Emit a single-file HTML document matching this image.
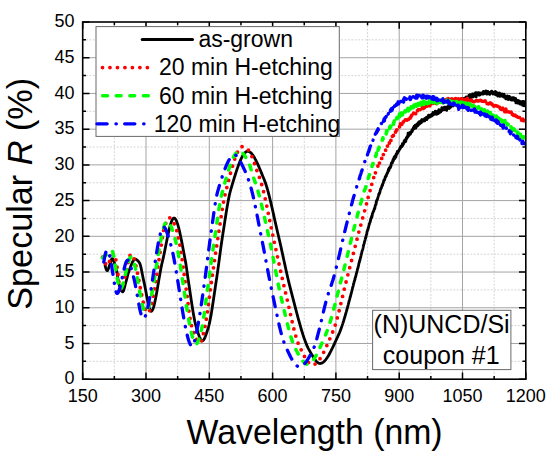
<!DOCTYPE html>
<html><head><meta charset="utf-8"><style>
html,body{margin:0;padding:0;background:#fff;width:552px;height:462px;overflow:hidden}
svg{display:block}
text{font-family:"Liberation Sans",sans-serif;fill:#000}
</style></head><body>
<svg width="552" height="462" viewBox="0 0 552 462">
<rect width="552" height="462" fill="#fff"/>
<path d="M114.35 22.00 V379.20 M177.65 22.00 V379.20 M240.95 22.00 V379.20 M304.25 22.00 V379.20 M367.55 22.00 V379.20 M430.85 22.00 V379.20 M494.15 22.00 V379.20 M82.70 361.34 H525.80 M82.70 325.62 H525.80 M82.70 289.90 H525.80 M82.70 254.18 H525.80 M82.70 218.46 H525.80 M82.70 182.74 H525.80 M82.70 147.02 H525.80 M82.70 111.30 H525.80 M82.70 75.58 H525.80 M82.70 39.86 H525.80" stroke="#d4d4d4" stroke-width="1" stroke-dasharray="1.9 1.5" fill="none"/>
<path d="M146.00 22.00 V379.20 M209.30 22.00 V379.20 M272.60 22.00 V379.20 M335.90 22.00 V379.20 M399.20 22.00 V379.20 M462.50 22.00 V379.20 M82.70 343.48 H525.80 M82.70 307.76 H525.80 M82.70 272.04 H525.80 M82.70 236.32 H525.80 M82.70 200.60 H525.80 M82.70 164.88 H525.80 M82.70 129.16 H525.80 M82.70 93.44 H525.80 M82.70 57.72 H525.80" stroke="#a4a4a4" stroke-width="1" fill="none"/>
<defs><clipPath id="pc"><rect x="82.7" y="22.0" width="443.09999999999997" height="357.2"/></clipPath></defs>
<g clip-path="url(#pc)" fill="none" stroke-linejoin="round">
<path d="M104.86 264.18 L105.28 266.20 L105.70 267.88 L106.12 269.19 L106.54 270.09 L106.97 270.55 L107.39 270.54 L107.81 270.00 L108.23 269.07 L108.65 267.90 L109.08 266.64 L109.50 265.43 L109.92 264.35 L110.34 263.04 L110.76 261.62 L111.19 260.27 L111.61 259.19 L112.03 258.55 L112.45 258.56 L112.87 259.20 L113.30 260.14 L113.72 261.08 L114.14 262.13 L114.56 263.32 L114.98 264.63 L115.41 266.08 L115.83 267.64 L116.25 269.32 L116.67 271.11 L117.09 273.12 L117.52 275.86 L117.94 278.87 L118.36 281.57 L118.78 283.40 L119.20 284.81 L119.62 286.17 L120.05 287.44 L120.47 288.60 L120.89 289.62 L121.31 290.48 L121.73 291.15 L122.16 291.60 L122.58 291.82 L123.00 291.67 L123.42 290.94 L123.84 289.75 L124.27 288.26 L124.69 286.61 L125.11 284.94 L125.53 283.39 L125.95 281.96 L126.38 280.40 L126.80 278.76 L127.22 277.09 L127.64 275.44 L128.06 273.88 L128.49 272.44 L128.91 271.19 L129.33 270.09 L129.75 268.96 L130.18 267.83 L130.60 266.71 L131.02 265.61 L131.44 264.54 L131.86 263.53 L132.28 262.59 L132.71 261.73 L133.13 260.97 L133.55 260.32 L133.97 259.81 L134.40 259.44 L134.82 259.23 L135.24 259.18 L135.66 259.26 L136.08 259.41 L136.50 259.64 L136.93 259.94 L137.35 260.30 L137.77 260.72 L138.19 261.18 L138.62 261.69 L139.04 262.24 L139.46 262.81 L139.88 263.66 L140.30 264.91 L140.72 266.48 L141.15 268.30 L141.57 270.31 L141.99 272.44 L142.41 274.63 L142.84 276.79 L143.26 278.87 L143.68 280.79 L144.10 282.60 L144.52 284.55 L144.94 286.63 L145.37 288.82 L145.79 291.06 L146.21 293.35 L146.63 295.63 L147.06 297.87 L147.48 300.06 L147.90 302.14 L148.32 304.09 L148.74 305.88 L149.17 307.47 L149.59 308.83 L150.01 309.93 L150.43 310.74 L150.85 311.21 L151.28 311.33 L151.70 311.12 L152.12 310.64 L152.54 309.91 L152.96 308.93 L153.38 307.73 L153.81 306.32 L154.23 304.73 L154.65 302.97 L155.07 301.05 L155.50 299.00 L155.92 296.83 L156.34 294.56 L156.76 292.21 L157.18 289.80 L157.61 287.34 L158.03 284.85 L158.45 282.34 L158.87 279.85 L159.29 277.38 L159.72 274.94 L160.14 272.57 L160.56 270.28 L160.98 268.08 L161.40 265.99 L161.82 264.02 L162.25 262.21 L162.67 260.46 L163.09 258.62 L163.51 256.71 L163.94 254.73 L164.36 252.71 L164.78 250.64 L165.20 248.55 L165.62 246.44 L166.05 244.33 L166.47 242.22 L166.89 240.13 L167.31 238.06 L167.73 236.04 L168.16 234.07 L168.58 232.15 L169.00 230.31 L169.42 228.56 L169.84 226.90 L170.26 225.35 L170.69 223.91 L171.11 222.61 L171.53 221.44 L171.95 220.43 L172.38 219.58 L172.80 218.90 L173.22 218.41 L173.64 218.12 L174.06 218.03 L174.49 218.15 L174.91 218.44 L175.33 218.91 L175.75 219.55 L176.17 220.34 L176.59 221.29 L177.02 222.37 L177.44 223.60 L177.86 224.94 L178.28 226.41 L178.70 227.98 L179.13 229.65 L179.55 231.42 L179.97 233.27 L180.39 235.20 L180.81 237.20 L181.24 239.26 L181.66 241.37 L182.08 243.52 L182.50 245.72 L182.93 247.93 L183.35 250.17 L183.77 252.42 L184.19 254.68 L184.61 256.93 L185.03 259.16 L185.46 261.38 L185.88 263.69 L186.30 266.38 L186.72 269.35 L187.14 272.45 L187.57 275.55 L187.99 278.51 L188.41 281.25 L188.83 284.00 L189.25 286.80 L189.68 289.63 L190.10 292.48 L190.52 295.34 L190.94 298.18 L191.37 301.00 L191.79 303.78 L192.21 306.51 L192.63 309.18 L193.05 311.76 L193.47 314.24 L193.90 316.62 L194.32 318.87 L194.74 320.98 L195.16 322.94 L195.58 324.73 L196.01 326.34 L196.43 327.75 L196.85 329.10 L197.27 330.44 L197.69 331.78 L198.12 333.09 L198.54 334.35 L198.96 335.55 L199.38 336.67 L199.81 337.69 L200.23 338.60 L200.65 339.38 L201.07 340.01 L201.49 340.47 L201.91 340.75 L202.34 340.84 L202.76 340.72 L203.18 340.41 L203.60 339.92 L204.03 339.28 L204.45 338.50 L204.87 337.59 L205.29 336.58 L205.71 335.47 L206.13 334.28 L206.56 333.04 L206.98 331.74 L207.40 330.42 L207.82 329.09 L208.25 327.75 L208.67 326.34 L209.09 324.73 L209.51 322.93 L209.93 320.96 L210.36 318.83 L210.78 316.55 L211.20 314.15 L211.62 311.64 L212.04 309.02 L212.46 306.32 L212.89 303.56 L213.31 300.73 L213.73 297.87 L214.15 294.99 L214.57 292.09 L215.00 289.21 L215.42 286.34 L215.84 283.50 L216.26 280.72 L216.69 277.96 L217.11 275.09 L217.53 272.14 L217.95 269.11 L218.37 266.02 L218.80 262.90 L219.22 259.75 L219.64 256.59 L220.06 253.45 L220.48 250.34 L220.90 247.27 L221.33 244.26 L221.75 241.33 L222.17 238.50 L222.59 235.78 L223.01 233.08 L223.44 230.35 L223.86 227.60 L224.28 224.85 L224.70 222.10 L225.12 219.37 L225.55 216.67 L225.97 214.00 L226.39 211.38 L226.81 208.82 L227.24 206.33 L227.66 203.92 L228.08 201.60 L228.50 199.38 L228.92 197.27 L229.34 195.29 L229.77 193.44 L230.19 191.73 L230.61 190.18 L231.03 188.73 L231.45 187.30 L231.88 185.86 L232.30 184.43 L232.72 183.01 L233.14 181.60 L233.56 180.20 L233.99 178.81 L234.41 177.43 L234.83 176.07 L235.25 174.73 L235.68 173.40 L236.10 172.10 L236.52 170.82 L236.94 169.57 L237.36 168.34 L237.79 167.14 L238.21 165.97 L238.63 164.83 L239.05 163.72 L239.47 162.65 L239.89 161.62 L240.32 160.62 L240.74 159.67 L241.16 158.76 L241.58 157.89 L242.00 157.06 L242.43 156.29 L242.85 155.56 L243.27 154.89 L243.69 154.26 L244.12 153.69 L244.54 153.18 L244.96 152.73 L245.38 152.33 L245.80 152.00 L246.23 151.73 L246.65 151.52 L247.07 151.39 L247.49 151.32 L247.91 151.31 L248.33 151.37 L248.76 151.49 L249.18 151.66 L249.60 151.88 L250.02 152.15 L250.44 152.47 L250.87 152.85 L251.29 153.26 L251.71 153.72 L252.13 154.23 L252.56 154.78 L252.98 155.36 L253.40 155.99 L253.82 156.65 L254.24 157.34 L254.67 158.07 L255.09 158.83 L255.51 159.62 L255.93 160.44 L256.35 161.28 L256.77 162.15 L257.20 163.04 L257.62 163.95 L258.04 164.89 L258.46 165.84 L258.88 166.80 L259.31 167.78 L259.73 168.78 L260.15 169.78 L260.57 170.80 L261.00 171.82 L261.42 172.85 L261.84 173.88 L262.26 174.92 L262.68 175.96 L263.11 176.99 L263.53 178.03 L263.95 179.06 L264.37 180.09 L264.79 181.16 L265.21 182.31 L265.64 183.51 L266.06 184.79 L266.48 186.12 L266.90 187.50 L267.32 188.95 L267.75 190.44 L268.17 191.98 L268.59 193.56 L269.01 195.19 L269.44 196.85 L269.86 198.55 L270.28 200.28 L270.70 202.04 L271.12 203.83 L271.55 205.64 L271.97 207.47 L272.39 209.31 L272.81 211.17 L273.23 213.04 L273.65 214.92 L274.08 216.81 L274.50 218.69 L274.92 220.58 L275.34 222.46 L275.76 224.33 L276.19 226.19 L276.61 228.04 L277.03 229.87 L277.45 231.69 L277.88 233.48 L278.30 235.24 L278.72 237.02 L279.14 238.82 L279.56 240.65 L279.99 242.50 L280.41 244.38 L280.83 246.26 L281.25 248.17 L281.67 250.09 L282.09 252.01 L282.52 253.95 L282.94 255.89 L283.36 257.84 L283.78 259.78 L284.20 261.73 L284.63 263.67 L285.05 265.60 L285.47 267.53 L285.89 269.44 L286.31 271.34 L286.74 273.23 L287.16 275.10 L287.58 276.94 L288.00 278.77 L288.43 280.57 L288.85 282.34 L289.27 284.08 L289.69 285.79 L290.11 287.46 L290.53 289.10 L290.96 290.70 L291.38 292.31 L291.80 293.92 L292.22 295.54 L292.64 297.16 L293.07 298.79 L293.49 300.42 L293.91 302.05 L294.33 303.69 L294.75 305.32 L295.18 306.94 L295.60 308.56 L296.02 310.18 L296.44 311.79 L296.87 313.39 L297.29 314.98 L297.71 316.56 L298.13 318.12 L298.55 319.67 L298.98 321.21 L299.40 322.73 L299.82 324.23 L300.24 325.71 L300.66 327.17 L301.08 328.61 L301.51 330.02 L301.93 331.41 L302.35 332.77 L302.77 334.10 L303.19 335.41 L303.62 336.68 L304.04 337.93 L304.46 339.14 L304.88 340.31 L305.31 341.45 L305.73 342.55 L306.15 343.61 L306.57 344.63 L306.99 345.61 L307.42 346.55 L307.84 347.44 L308.26 348.29 L308.68 349.09 L309.10 349.84 L309.52 350.58 L309.95 351.33 L310.37 352.08 L310.79 352.83 L311.21 353.58 L311.63 354.32 L312.06 355.05 L312.48 355.77 L312.90 356.47 L313.32 357.16 L313.75 357.82 L314.17 358.47 L314.59 359.08 L315.01 359.67 L315.43 360.23 L315.86 360.75 L316.28 361.24 L316.70 361.69 L317.12 362.09 L317.54 362.45 L317.96 362.76 L318.39 363.02 L318.81 363.22 L319.23 363.37 L319.65 363.46 L320.07 363.48 L320.50 363.45 L320.92 363.38 L321.34 363.26 L321.76 363.09 L322.19 362.89 L322.61 362.64 L323.03 362.35 L323.45 362.02 L323.87 361.65 L324.30 361.25 L324.72 360.81 L325.14 360.33 L325.56 359.83 L325.98 359.29 L326.40 358.72 L326.83 358.12 L327.25 357.50 L327.67 356.84 L328.09 356.17 L328.51 355.46 L328.94 354.74 L329.36 353.99 L329.78 353.22 L330.20 352.44 L330.62 351.63 L331.05 350.81 L331.47 349.98 L331.89 349.13 L332.31 348.26 L332.74 347.39 L333.16 346.50 L333.58 345.61 L334.00 344.70 L334.42 343.79 L334.84 342.88 L335.27 341.96 L335.69 341.04 L336.11 340.11 L336.53 339.19 L336.95 338.26 L337.38 337.34 L337.80 336.42 L338.22 335.51 L338.64 334.60 L339.06 333.67 L339.49 332.69 L339.91 331.66 L340.33 330.59 L340.75 329.47 L341.17 328.33 L341.60 327.11 L342.02 325.87 L342.44 324.60 L342.86 323.35 L343.28 321.99 L343.71 320.64 L344.13 319.15 L344.55 317.81 L344.97 316.50 L345.39 314.88 L345.82 313.28 L346.24 311.86 L346.66 310.31 L347.08 308.84 L347.50 307.48 L347.93 305.90 L348.35 304.26 L348.56 303.34 L348.77 302.49 L348.98 301.64 L349.19 300.96 L349.40 300.00 L349.61 299.35 L349.83 298.59 L350.04 297.58 L350.25 297.01 L350.46 296.46 L350.67 295.41 L350.88 294.44 L351.09 294.10 L351.30 292.89 L351.51 292.07 L351.72 291.44 L351.94 290.64 L352.15 289.67 L352.36 288.88 L352.57 287.77 L352.78 287.12 L352.99 286.66 L353.20 285.73 L353.41 284.66 L353.62 283.65 L353.83 283.13 L354.05 282.36 L354.26 281.27 L354.47 280.85 L354.68 280.13 L354.89 279.57 L355.10 278.62 L355.31 277.30 L355.52 277.27 L355.73 276.19 L355.94 275.71 L356.16 274.60 L356.37 273.64 L356.58 273.09 L356.79 272.07 L357.00 271.26 L357.21 270.51 L357.42 269.40 L357.63 268.80 L357.84 268.24 L358.06 267.51 L358.27 266.72 L358.48 265.57 L358.69 264.94 L358.90 263.33 L359.11 262.71 L359.32 262.41 L359.53 261.60 L359.74 260.22 L359.95 260.34 L360.16 259.11 L360.38 257.89 L360.59 257.56 L360.80 256.60 L361.01 255.72 L361.22 254.59 L361.43 253.90 L361.64 252.98 L361.85 252.08 L362.06 251.40 L362.27 250.24 L362.49 249.95 L362.70 249.34 L362.91 248.61 L363.12 247.73 L363.33 246.57 L363.54 245.24 L363.75 244.69 L363.96 244.11 L364.17 243.45 L364.38 242.45 L364.60 241.60 L364.81 240.84 L365.02 240.33 L365.23 239.20 L365.44 237.89 L365.65 238.19 L365.86 236.73 L366.07 236.60 L366.28 235.01 L366.50 234.56 L366.71 234.27 L366.92 232.71 L367.13 231.32 L367.34 231.18 L367.55 230.03 L367.76 229.74 L367.97 229.78 L368.18 228.04 L368.39 227.65 L368.60 227.32 L368.82 225.73 L369.03 225.20 L369.24 224.81 L369.45 223.55 L369.66 223.54 L369.87 222.23 L370.08 222.17 L370.29 220.88 L370.50 220.87 L370.71 219.11 L370.93 218.94 L371.14 217.77 L371.35 218.05 L371.56 217.23 L371.77 216.00 L371.98 216.88 L372.19 215.50 L372.40 213.92 L372.61 213.51 L372.82 212.63 L373.04 212.55 L373.25 211.51 L373.46 211.44 L373.67 211.09 L373.88 210.59 L374.09 209.43 L374.30 208.78 L374.51 208.18 L374.72 208.90 L374.94 207.54 L375.15 206.21 L375.36 205.18 L375.57 204.95 L375.78 204.46 L375.99 204.52 L376.20 201.77 L376.41 202.66 L376.62 200.65 L376.83 200.07 L377.04 200.07 L377.26 199.86 L377.47 198.86 L377.68 198.88 L377.89 197.53 L378.10 197.03 L378.31 196.13 L378.52 195.28 L378.73 194.24 L378.94 194.72 L379.15 193.34 L379.37 193.69 L379.58 193.13 L379.79 192.37 L380.00 191.96 L380.21 190.28 L380.42 189.70 L380.63 188.91 L380.84 189.02 L381.05 188.26 L381.26 188.14 L381.48 187.87 L381.69 186.39 L381.90 185.91 L382.11 186.12 L382.32 184.59 L382.53 185.36 L382.74 183.90 L382.95 183.61 L383.16 183.00 L383.38 182.79 L383.59 181.05 L383.80 180.75 L384.01 179.85 L384.22 179.95 L384.43 180.29 L384.64 179.23 L384.85 179.22 L385.06 177.72 L385.27 176.76 L385.48 176.80 L385.70 176.89 L385.91 176.26 L386.12 175.42 L386.33 175.97 L386.54 174.50 L386.75 173.99 L386.96 173.99 L387.17 173.44 L387.38 172.60 L387.59 172.78 L387.81 172.32 L388.02 170.82 L388.23 170.72 L388.44 169.31 L388.65 170.60 L388.86 170.66 L389.07 168.41 L389.28 167.94 L389.49 168.62 L389.70 168.66 L389.92 167.25 L390.13 167.95 L390.34 166.55 L390.55 167.35 L390.76 165.58 L390.97 166.43 L391.18 164.68 L391.39 163.02 L391.60 163.82 L391.81 162.65 L392.03 163.20 L392.24 162.94 L392.45 162.94 L392.66 160.70 L392.87 161.06 L393.08 159.42 L393.29 161.01 L393.50 159.90 L393.71 159.27 L393.92 157.88 L394.14 157.17 L394.35 158.57 L394.56 158.53 L394.77 158.58 L394.98 155.91 L395.19 156.57 L395.40 156.60 L395.61 155.77 L395.82 157.29 L396.03 156.29 L396.25 153.90 L396.46 153.94 L396.67 153.76 L396.88 154.28 L397.09 152.70 L397.30 151.42 L397.51 153.39 L397.72 152.08 L397.93 152.08 L398.14 151.12 L398.36 151.05 L398.57 150.83 L398.78 151.08 L398.99 150.06 L399.20 150.20 L399.41 149.50 L399.62 149.10 L399.83 148.19 L400.04 148.87 L400.25 148.33 L400.47 146.87 L400.68 147.60 L400.89 147.31 L401.10 146.06 L401.31 146.23 L401.52 146.06 L401.73 145.63 L401.94 146.53 L402.15 144.79 L402.36 143.74 L402.58 144.05 L402.79 145.54 L403.00 143.66 L403.21 144.36 L403.42 143.47 L403.63 142.85 L403.84 143.66 L404.05 141.18 L404.26 142.07 L404.47 141.02 L404.69 140.84 L404.90 139.92 L405.11 139.74 L405.32 141.71 L405.53 140.10 L405.74 141.65 L405.95 139.90 L406.16 138.59 L406.37 138.11 L406.58 137.48 L406.80 138.60 L407.01 137.69 L407.22 137.57 L407.43 136.26 L407.64 135.68 L407.85 137.04 L408.06 133.18 L408.27 136.12 L408.48 136.13 L408.69 135.00 L408.91 134.56 L409.12 134.43 L409.33 135.16 L409.54 133.03 L409.75 133.95 L409.96 132.38 L410.17 132.20 L410.38 134.19 L410.59 133.64 L410.80 133.36 L411.02 132.00 L411.23 131.87 L411.44 131.40 L411.65 132.04 L411.86 130.69 L412.07 129.57 L412.28 131.63 L412.49 130.38 L412.70 129.72 L412.91 129.77 L413.13 129.56 L413.34 127.60 L413.55 127.75 L413.76 127.86 L413.97 128.99 L414.18 126.16 L414.39 127.52 L414.60 128.07 L414.81 127.62 L415.02 127.51 L415.24 125.04 L415.45 126.44 L415.66 126.34 L415.87 128.01 L416.08 125.31 L416.29 126.63 L416.50 126.48 L416.71 124.78 L416.92 125.84 L417.13 124.18 L417.35 123.73 L417.56 126.03 L417.77 124.43 L417.98 125.47 L418.19 123.99 L418.40 122.97 L418.61 124.75 L418.82 121.86 L419.03 123.50 L419.25 124.08 L419.46 123.01 L419.67 122.06 L419.88 123.75 L420.09 122.41 L420.30 123.44 L420.51 121.07 L420.72 121.82 L420.93 122.16 L421.14 120.76 L421.35 122.60 L421.57 121.69 L421.78 119.62 L421.99 121.17 L422.20 119.75 L422.41 120.61 L422.62 121.23 L422.83 120.70 L423.04 120.28 L423.25 120.56 L423.46 120.77 L423.68 120.60 L423.89 121.06 L424.10 119.56 L424.31 119.18 L424.52 118.73 L424.73 120.79 L424.94 118.41 L425.15 118.98 L425.36 120.05 L425.57 118.61 L425.79 117.86 L426.00 117.97 L426.21 117.67 L426.42 117.34 L426.63 117.25 L426.84 117.92 L427.05 119.54 L427.26 118.27 L427.47 117.18 L427.69 117.76 L427.90 116.64 L428.11 116.41 L428.32 116.92 L428.53 115.22 L428.74 117.54 L428.95 115.78 L429.16 116.86 L429.37 116.99 L429.58 115.69 L429.79 116.60 L430.01 115.21 L430.22 116.82 L430.43 115.67 L430.64 116.30 L430.85 115.66 L431.06 115.65 L431.27 116.18 L431.48 114.53 L431.69 116.04 L431.90 115.69 L432.12 113.97 L432.33 113.78 L432.54 113.92 L432.75 114.09 L432.96 112.31 L433.17 115.19 L433.38 114.67 L433.59 114.77 L433.80 113.03 L434.01 113.44 L434.23 112.63 L434.44 112.63 L434.65 113.55 L434.86 113.95 L435.07 113.98 L435.28 111.13 L435.49 112.08 L435.70 112.30 L435.91 112.99 L436.12 112.76 L436.34 112.78 L436.55 112.65 L436.76 114.33 L436.97 112.21 L437.18 112.38 L437.39 111.70 L437.60 111.67 L437.81 111.01 L438.02 111.65 L438.23 110.85 L438.45 113.63 L438.66 112.28 L438.87 109.75 L439.08 112.18 L439.29 111.27 L439.50 110.32 L439.71 111.59 L439.92 110.11 L440.13 111.86 L440.34 112.18 L440.56 111.58 L440.77 111.76 L440.98 110.26 L441.19 110.42 L441.40 109.78 L441.61 110.85 L441.82 107.69 L442.03 109.86 L442.24 109.72 L442.45 109.20 L442.67 109.71 L442.88 109.95 L443.09 109.24 L443.30 108.44 L443.51 108.56 L443.72 108.24 L443.93 109.44 L444.14 109.53 L444.35 107.06 L444.56 108.89 L444.78 108.19 L444.99 107.87 L445.20 107.20 L445.41 109.49 L445.62 108.65 L445.83 108.53 L446.04 108.32 L446.25 110.05 L446.46 107.97 L446.67 110.28 L446.89 107.46 L447.10 107.16 L447.31 107.02 L447.52 108.48 L447.73 106.53 L447.94 108.00 L448.15 108.22 L448.36 107.92 L448.57 107.72 L448.78 106.75 L449.00 106.10 L449.21 108.51 L449.42 107.08 L449.63 105.75 L449.84 106.25 L450.05 105.89 L450.26 107.51 L450.47 105.31 L450.68 107.37 L450.89 105.76 L451.11 104.66 L451.32 104.11 L451.53 105.18 L451.74 104.76 L451.95 105.93 L452.16 105.72 L452.37 104.19 L452.58 105.09 L452.79 105.09 L453.00 106.08 L453.22 104.63 L453.43 104.10 L453.64 105.22 L453.85 104.86 L454.06 102.96 L454.27 104.04 L454.48 104.33 L454.69 104.94 L454.90 104.38 L455.11 103.95 L455.33 102.44 L455.54 104.02 L455.75 101.85 L455.96 104.06 L456.17 103.45 L456.38 102.31 L456.59 103.12 L456.80 103.51 L457.01 102.79 L457.22 102.17 L457.44 103.91 L457.65 102.54 L457.86 102.30 L458.07 102.44 L458.28 101.34 L458.49 102.35 L458.70 102.06 L458.91 101.60 L459.12 100.89 L459.33 101.59 L459.55 99.99 L459.76 101.96 L459.97 99.96 L460.18 101.69 L460.39 100.99 L460.60 100.42 L460.81 98.87 L461.02 99.75 L461.23 100.76 L461.44 99.19 L461.66 100.38 L461.87 100.77 L462.08 99.61 L462.29 99.81 L462.50 98.97 L462.71 100.16 L462.92 99.26 L463.13 98.94 L463.34 99.15 L463.55 99.31 L463.77 99.78 L463.98 98.31 L464.19 98.87 L464.40 98.47 L464.61 99.10 L464.82 98.70 L465.03 99.50 L465.24 98.45 L465.45 97.77 L465.66 98.25 L465.88 97.51 L466.09 97.88 L466.30 96.89 L466.51 98.13 L466.72 99.29 L466.93 97.42 L467.14 97.85 L467.35 98.45 L467.56 96.97 L467.77 97.22 L467.99 96.98 L468.20 97.56 L468.41 97.02 L468.62 96.89 L468.83 95.50 L469.04 97.53 L469.25 96.87 L469.46 96.47 L469.67 98.18 L469.88 97.99 L470.10 94.68 L470.31 97.97 L470.52 95.89 L470.73 97.03 L470.94 96.88 L471.15 97.85 L471.36 96.85 L471.57 95.33 L471.78 97.11 L471.99 95.34 L472.21 95.51 L472.42 93.97 L472.63 96.04 L472.84 94.48 L473.05 94.73 L473.26 95.67 L473.47 96.78 L473.68 93.99 L473.89 96.39 L474.10 95.56 L474.32 94.33 L474.53 94.06 L474.74 95.68 L474.95 94.92 L475.16 95.05 L475.37 93.76 L475.58 92.56 L475.79 96.22 L476.00 93.81 L476.21 96.98 L476.43 94.46 L476.64 95.37 L476.85 92.66 L477.06 94.17 L477.27 94.89 L477.48 94.63 L477.69 94.64 L477.90 93.94 L478.11 94.18 L478.32 93.44 L478.54 92.63 L478.75 93.30 L478.96 94.91 L479.17 95.20 L479.38 94.41 L479.59 92.82 L479.80 93.96 L480.01 94.21 L480.22 93.47 L480.44 94.77 L480.65 94.49 L480.86 93.04 L481.07 93.70 L481.28 93.79 L481.49 93.09 L481.70 93.83 L481.91 93.88 L482.12 93.66 L482.33 92.72 L482.54 93.15 L482.76 94.20 L482.97 93.40 L483.18 92.56 L483.39 91.49 L483.60 94.05 L483.81 92.75 L484.02 93.24 L484.23 92.29 L484.44 92.59 L484.65 91.70 L484.87 92.50 L485.08 93.39 L485.29 93.37 L485.50 92.55 L485.71 92.54 L485.92 90.81 L486.13 91.42 L486.34 93.85 L486.55 92.54 L486.76 93.97 L486.98 94.24 L487.19 92.18 L487.40 92.33 L487.61 93.69 L487.82 91.39 L488.03 93.63 L488.24 93.79 L488.45 92.23 L488.66 92.60 L488.88 92.93 L489.09 92.85 L489.30 92.60 L489.51 92.92 L489.72 92.95 L489.93 94.44 L490.14 93.97 L490.35 92.30 L490.56 93.44 L490.77 92.38 L490.98 91.80 L491.20 93.18 L491.41 92.65 L491.62 91.12 L491.83 92.33 L492.04 91.36 L492.25 91.65 L492.46 92.34 L492.67 93.11 L492.88 93.76 L493.09 94.02 L493.31 92.67 L493.52 92.72 L493.73 93.30 L493.94 92.46 L494.15 93.74 L494.36 92.31 L494.57 93.27 L494.78 93.37 L494.99 93.38 L495.20 93.51 L495.42 91.34 L495.63 94.90 L495.84 93.41 L496.05 92.55 L496.26 93.05 L496.47 93.98 L496.68 92.28 L496.89 94.74 L497.10 95.00 L497.31 93.45 L497.53 95.24 L497.74 96.09 L497.95 93.35 L498.16 93.51 L498.37 93.60 L498.58 94.70 L498.79 94.19 L499.00 95.23 L499.21 92.98 L499.42 93.85 L499.64 93.96 L499.85 96.33 L500.06 94.03 L500.27 93.50 L500.48 93.80 L500.69 94.23 L500.90 94.98 L501.11 95.33 L501.32 94.59 L501.53 94.84 L501.75 95.04 L501.96 95.57 L502.17 93.93 L502.38 96.44 L502.59 95.52 L502.80 96.07 L503.01 94.76 L503.22 94.48 L503.43 94.71 L503.64 95.20 L503.86 97.12 L504.07 94.20 L504.28 95.61 L504.49 96.22 L504.70 96.18 L504.91 96.56 L505.12 95.98 L505.33 96.15 L505.54 96.80 L505.75 98.76 L505.97 96.66 L506.18 96.30 L506.39 96.33 L506.60 96.99 L506.81 96.54 L507.02 96.12 L507.23 97.49 L507.44 95.90 L507.65 98.91 L507.86 98.39 L508.08 98.17 L508.29 99.56 L508.50 98.40 L508.71 96.56 L508.92 96.64 L509.13 97.70 L509.34 96.39 L509.55 97.74 L509.76 98.45 L509.97 97.90 L510.19 98.31 L510.40 97.64 L510.61 99.64 L510.82 97.58 L511.03 98.91 L511.24 97.87 L511.45 100.01 L511.66 99.13 L511.87 98.79 L512.09 98.17 L512.30 100.07 L512.51 97.69 L512.72 98.79 L512.93 99.74 L513.14 98.34 L513.35 99.38 L513.56 98.56 L513.77 97.65 L513.98 99.08 L514.20 100.28 L514.41 100.28 L514.62 99.51 L514.83 99.85 L515.04 100.91 L515.25 100.86 L515.46 99.81 L515.67 98.46 L515.88 102.82 L516.09 100.04 L516.30 100.94 L516.52 100.19 L516.73 100.21 L516.94 101.00 L517.15 102.02 L517.36 102.44 L517.57 102.95 L517.78 100.39 L517.99 101.72 L518.20 102.10 L518.41 101.98 L518.63 102.99 L518.84 101.68 L519.05 100.91 L519.26 101.17 L519.47 103.59 L519.68 101.18 L519.89 103.10 L520.10 104.19 L520.31 103.70 L520.52 103.58 L520.74 102.85 L520.95 103.83 L521.16 104.34 L521.37 103.37 L521.58 101.59 L521.79 103.94 L522.00 103.04 L522.21 103.46 L522.42 101.34 L522.63 105.34 L522.85 102.87 L523.06 104.99 L523.27 104.49 L523.48 104.15 L523.69 101.42 L523.90 104.88 L524.11 105.93 L524.32 103.27 L524.53 105.18 L524.75 104.74 L524.96 104.62 L525.17 104.58 L525.38 104.88 L525.59 104.56 L525.80 104.52" stroke="#000" stroke-width="2.8"/>
<path d="M102.53 257.04 L102.96 258.17 L103.38 259.24 L103.80 260.23 L104.22 261.16 L104.64 262.00 L105.07 262.75 L105.49 263.50 L105.91 264.27 L106.33 264.94 L106.75 265.43 L107.18 265.61 L107.60 265.41 L108.02 264.86 L108.44 264.05 L108.86 263.07 L109.29 262.00 L109.71 260.94 L110.13 259.97 L110.55 259.18 L110.97 258.47 L111.40 257.71 L111.82 256.94 L112.24 256.20 L112.66 255.52 L113.08 254.94 L113.51 254.50 L113.93 254.24 L114.35 254.23 L114.77 255.08 L115.19 256.68 L115.62 258.64 L116.04 260.61 L116.46 262.81 L116.88 265.63 L117.30 268.88 L117.73 272.39 L118.15 276.00 L118.57 279.53 L118.99 282.80 L119.41 285.65 L119.84 287.89 L120.26 289.37 L120.68 289.90 L121.10 289.73 L121.52 289.25 L121.95 288.48 L122.37 287.45 L122.79 286.19 L123.21 284.72 L123.63 283.07 L124.06 281.27 L124.48 279.35 L124.90 277.33 L125.32 275.24 L125.74 273.11 L126.17 270.97 L126.59 268.84 L127.01 266.75 L127.43 264.73 L127.85 262.81 L128.28 261.01 L128.70 259.36 L129.12 257.89 L129.54 256.63 L129.96 255.60 L130.39 254.83 L130.81 254.35 L131.23 254.18 L131.65 254.29 L132.07 254.63 L132.50 255.17 L132.92 255.90 L133.34 256.82 L133.76 257.91 L134.18 259.16 L134.61 260.56 L135.03 262.10 L135.45 263.76 L135.87 265.53 L136.29 267.41 L136.72 269.37 L137.14 271.41 L137.56 273.51 L137.98 275.67 L138.40 277.87 L138.83 280.10 L139.25 282.34 L139.67 284.60 L140.09 286.84 L140.51 289.07 L140.94 291.27 L141.36 293.43 L141.78 295.53 L142.20 297.57 L142.62 299.54 L143.05 301.41 L143.47 303.18 L143.89 304.84 L144.31 306.38 L144.73 307.78 L145.16 309.03 L145.58 310.12 L146.00 311.04 L146.42 311.77 L146.84 312.31 L147.27 312.65 L147.69 312.76 L148.11 312.64 L148.53 312.30 L148.95 311.74 L149.38 310.97 L149.80 310.01 L150.22 308.86 L150.64 307.53 L151.06 306.04 L151.49 304.39 L151.91 302.59 L152.33 300.65 L152.75 298.59 L153.17 296.41 L153.60 294.12 L154.02 291.73 L154.44 289.26 L154.86 286.71 L155.28 284.09 L155.71 281.41 L156.13 278.68 L156.55 275.92 L156.97 273.13 L157.39 270.32 L157.82 267.50 L158.24 264.68 L158.66 261.87 L159.08 259.09 L159.50 256.33 L159.93 253.62 L160.35 250.95 L160.77 248.35 L161.19 245.80 L161.61 242.86 L162.04 239.59 L162.46 236.39 L162.88 233.65 L163.30 231.71 L163.72 230.14 L164.15 228.61 L164.57 227.14 L164.99 225.73 L165.41 224.40 L165.83 223.16 L166.26 222.01 L166.68 220.98 L167.10 220.07 L167.52 219.30 L167.94 218.66 L168.37 218.19 L168.79 217.88 L169.21 217.75 L169.63 217.80 L170.05 217.99 L170.48 218.30 L170.90 218.73 L171.32 219.24 L171.74 219.82 L172.16 220.46 L172.59 221.12 L173.01 221.81 L173.43 222.48 L173.85 223.15 L174.27 223.88 L174.70 224.68 L175.12 225.58 L175.54 226.58 L175.96 227.72 L176.38 229.03 L176.81 230.83 L177.23 232.94 L177.65 235.11 L178.07 237.07 L178.49 238.87 L178.92 240.64 L179.34 242.52 L179.76 244.62 L180.18 246.94 L180.60 249.42 L181.03 252.06 L181.45 254.83 L181.87 257.71 L182.29 260.68 L182.71 263.72 L183.14 266.82 L183.56 269.96 L183.98 273.11 L184.40 276.27 L184.82 279.40 L185.25 282.49 L185.67 285.52 L186.09 288.47 L186.51 291.49 L186.93 294.69 L187.36 298.02 L187.78 301.42 L188.20 304.83 L188.62 308.20 L189.04 311.47 L189.47 314.59 L189.89 317.49 L190.31 320.13 L190.73 322.45 L191.15 324.38 L191.58 325.89 L192.00 327.24 L192.42 328.56 L192.84 329.85 L193.26 331.10 L193.69 332.32 L194.11 333.50 L194.53 334.62 L194.95 335.69 L195.37 336.71 L195.80 337.66 L196.22 338.55 L196.64 339.36 L197.06 340.10 L197.48 340.76 L197.91 341.34 L198.33 341.82 L198.75 342.21 L199.17 342.50 L199.59 342.68 L200.02 342.76 L200.44 342.64 L200.86 342.14 L201.28 341.32 L201.70 340.20 L202.13 338.84 L202.55 337.27 L202.97 335.54 L203.39 333.69 L203.81 331.77 L204.24 329.81 L204.66 327.86 L205.08 325.95 L205.50 323.89 L205.92 321.58 L206.35 319.06 L206.77 316.35 L207.19 313.48 L207.61 310.48 L208.03 307.37 L208.46 304.18 L208.88 300.95 L209.30 297.69 L209.72 294.44 L210.14 291.22 L210.57 288.06 L210.99 284.99 L211.41 282.04 L211.83 279.15 L212.25 276.25 L212.68 273.33 L213.10 270.42 L213.52 267.50 L213.94 264.59 L214.36 261.68 L214.79 258.79 L215.21 255.91 L215.63 253.04 L216.05 250.20 L216.47 247.38 L216.90 244.58 L217.32 241.82 L217.74 239.10 L218.16 236.40 L218.58 233.65 L219.01 230.87 L219.43 228.06 L219.85 225.23 L220.27 222.40 L220.69 219.59 L221.12 216.80 L221.54 214.05 L221.96 211.36 L222.38 208.74 L222.80 206.20 L223.23 203.75 L223.65 201.42 L224.07 199.21 L224.49 197.13 L224.91 195.21 L225.34 193.46 L225.76 191.78 L226.18 190.11 L226.60 188.43 L227.02 186.75 L227.45 185.08 L227.87 183.41 L228.29 181.75 L228.71 180.10 L229.13 178.46 L229.56 176.84 L229.98 175.24 L230.40 173.65 L230.82 172.08 L231.24 170.54 L231.67 169.03 L232.09 167.55 L232.51 166.09 L232.93 164.67 L233.35 163.29 L233.78 161.94 L234.20 160.64 L234.62 159.37 L235.04 158.16 L235.46 156.99 L235.89 155.87 L236.31 154.80 L236.73 153.79 L237.15 152.83 L237.57 151.94 L238.00 151.10 L238.42 150.33 L238.84 149.63 L239.26 148.99 L239.68 148.43 L240.11 147.94 L240.53 147.53 L240.95 147.19 L241.37 146.93 L241.79 146.76 L242.22 146.67 L242.64 146.67 L243.06 146.72 L243.48 146.81 L243.90 146.94 L244.33 147.10 L244.75 147.31 L245.17 147.54 L245.59 147.80 L246.01 148.09 L246.44 148.40 L246.86 148.73 L247.28 149.07 L247.70 149.43 L248.12 149.80 L248.55 150.22 L248.97 150.78 L249.39 151.44 L249.81 152.20 L250.23 153.02 L250.66 153.89 L251.08 154.79 L251.50 155.68 L251.92 156.62 L252.34 157.62 L252.77 158.69 L253.19 159.81 L253.61 160.98 L254.03 162.18 L254.45 163.41 L254.88 164.65 L255.30 165.90 L255.72 167.16 L256.14 168.40 L256.56 169.63 L256.99 170.83 L257.41 172.01 L257.83 173.16 L258.25 174.31 L258.67 175.45 L259.10 176.61 L259.52 177.78 L259.94 178.98 L260.36 180.21 L260.78 181.50 L261.21 182.83 L261.63 184.24 L262.05 185.71 L262.47 187.26 L262.89 188.87 L263.32 190.54 L263.74 192.27 L264.16 194.05 L264.58 195.88 L265.00 197.75 L265.43 199.67 L265.85 201.62 L266.27 203.60 L266.69 205.61 L267.11 207.65 L267.54 209.70 L267.96 211.77 L268.38 213.86 L268.80 215.95 L269.22 218.04 L269.65 220.13 L270.07 222.22 L270.49 224.29 L270.91 226.35 L271.33 228.40 L271.76 230.42 L272.18 232.42 L272.60 234.39 L273.02 236.32 L273.44 238.24 L273.87 240.16 L274.29 242.09 L274.71 244.02 L275.13 245.96 L275.55 247.89 L275.98 249.83 L276.40 251.78 L276.82 253.72 L277.24 255.66 L277.66 257.60 L278.09 259.54 L278.51 261.48 L278.93 263.41 L279.35 265.34 L279.77 267.26 L280.20 269.18 L280.62 271.09 L281.04 273.00 L281.46 274.90 L281.88 276.78 L282.31 278.66 L282.73 280.53 L283.15 282.39 L283.57 284.24 L283.99 286.07 L284.42 287.90 L284.84 289.70 L285.26 291.50 L285.68 293.28 L286.10 295.04 L286.53 296.82 L286.95 298.62 L287.37 300.46 L287.79 302.31 L288.21 304.18 L288.64 306.06 L289.06 307.95 L289.48 309.84 L289.90 311.73 L290.32 313.63 L290.75 315.51 L291.17 317.39 L291.59 319.25 L292.01 321.09 L292.43 322.91 L292.86 324.70 L293.28 326.46 L293.70 328.19 L294.12 329.88 L294.54 331.52 L294.97 333.13 L295.39 334.68 L295.81 336.18 L296.23 337.62 L296.65 339.00 L297.08 340.31 L297.50 341.56 L297.92 342.73 L298.34 343.82 L298.76 344.84 L299.19 345.77 L299.61 346.65 L300.03 347.54 L300.45 348.43 L300.87 349.31 L301.30 350.19 L301.72 351.06 L302.14 351.92 L302.56 352.78 L302.98 353.62 L303.41 354.44 L303.83 355.25 L304.25 356.04 L304.67 356.81 L305.09 357.56 L305.52 358.28 L305.94 358.97 L306.36 359.64 L306.78 360.28 L307.20 360.88 L307.63 361.45 L308.05 361.99 L308.47 362.48 L308.89 362.94 L309.31 363.35 L309.74 363.72 L310.16 364.04 L310.58 364.32 L311.00 364.54 L311.42 364.72 L311.85 364.84 L312.27 364.90 L312.69 364.91 L313.11 364.87 L313.53 364.78 L313.96 364.66 L314.38 364.49 L314.80 364.28 L315.22 364.03 L315.64 363.74 L316.07 363.42 L316.49 363.06 L316.91 362.66 L317.33 362.23 L317.75 361.76 L318.18 361.26 L318.60 360.73 L319.02 360.17 L319.44 359.59 L319.86 358.97 L320.29 358.32 L320.71 357.65 L321.13 356.96 L321.55 356.24 L321.97 355.50 L322.40 354.73 L322.82 353.94 L323.24 353.14 L323.66 352.31 L324.08 351.47 L324.51 350.61 L324.93 349.74 L325.35 348.84 L325.77 347.94 L326.19 347.02 L326.62 346.09 L327.04 345.16 L327.46 344.21 L327.88 343.25 L328.30 342.28 L328.73 341.31 L329.15 340.33 L329.57 339.35 L329.99 338.37 L330.41 337.38 L330.84 336.39 L331.26 335.40 L331.68 334.41 L332.10 333.43 L332.52 332.44 L332.95 331.45 L333.37 330.39 L333.79 329.27 L334.21 328.09 L334.63 326.85 L335.06 325.56 L335.48 324.21 L335.90 322.81 L336.32 321.37 L336.74 319.88 L337.17 318.35 L337.59 316.78 L338.01 315.18 L338.43 313.54 L338.85 311.88 L339.28 310.19 L339.70 308.48 L340.12 306.74 L340.54 304.99 L340.96 303.21 L341.39 301.46 L341.81 299.68 L342.23 297.86 L342.65 296.07 L343.07 294.23 L343.50 292.48 L343.92 290.72 L344.34 288.87 L344.76 287.09 L345.18 285.47 L345.61 283.70 L346.03 282.14 L346.45 280.35 L346.87 278.75 L347.29 277.06 L347.72 275.48 L348.14 273.83 L348.56 272.20 L348.77 271.32 L348.98 270.53 L349.19 269.82 L349.40 269.09 L349.61 267.96 L349.83 267.11 L350.04 266.54 L350.25 265.58 L350.46 265.05 L350.67 264.24 L350.88 263.24 L351.09 262.16 L351.30 261.71 L351.51 260.86 L351.72 259.66 L351.94 259.39 L352.15 258.16 L352.36 257.36 L352.57 256.65 L352.78 255.76 L352.99 254.51 L353.20 254.35 L353.41 253.38 L353.62 252.54 L353.83 251.80 L354.05 251.11 L354.26 249.73 L354.47 249.17 L354.68 248.73 L354.89 247.71 L355.10 246.66 L355.31 245.84 L355.52 245.41 L355.73 244.30 L355.94 243.41 L356.16 242.56 L356.37 241.75 L356.58 241.42 L356.79 239.79 L357.00 239.34 L357.21 238.16 L357.42 237.09 L357.63 236.99 L357.84 236.44 L358.06 235.12 L358.27 234.57 L358.48 233.83 L358.69 233.18 L358.90 231.68 L359.11 231.43 L359.32 230.87 L359.53 229.83 L359.74 229.22 L359.95 228.08 L360.16 227.44 L360.38 226.82 L360.59 225.57 L360.80 225.13 L361.01 223.96 L361.22 223.01 L361.43 222.69 L361.64 222.00 L361.85 220.97 L362.06 219.98 L362.27 219.47 L362.49 218.65 L362.70 217.93 L362.91 217.05 L363.12 216.17 L363.33 215.82 L363.54 214.98 L363.75 214.04 L363.96 213.49 L364.17 212.46 L364.38 211.56 L364.60 210.97 L364.81 210.39 L365.02 209.68 L365.23 208.04 L365.44 207.56 L365.65 207.48 L365.86 206.61 L366.07 204.88 L366.28 204.22 L366.50 203.93 L366.71 202.78 L366.92 202.96 L367.13 201.64 L367.34 200.58 L367.55 200.76 L367.76 199.58 L367.97 198.20 L368.18 197.28 L368.39 197.14 L368.60 196.01 L368.82 194.71 L369.03 194.69 L369.24 194.27 L369.45 192.98 L369.66 192.32 L369.87 190.86 L370.08 190.53 L370.29 190.14 L370.50 188.05 L370.71 188.48 L370.93 187.30 L371.14 186.45 L371.35 185.65 L371.56 185.16 L371.77 184.23 L371.98 183.77 L372.19 183.63 L372.40 182.38 L372.61 181.66 L372.82 180.94 L373.04 180.10 L373.25 179.75 L373.46 178.18 L373.67 177.39 L373.88 178.44 L374.09 176.76 L374.30 176.44 L374.51 176.68 L374.72 174.63 L374.94 174.49 L375.15 173.75 L375.36 173.27 L375.57 171.83 L375.78 171.16 L375.99 171.03 L376.20 170.25 L376.41 170.07 L376.62 169.39 L376.83 169.27 L377.04 168.34 L377.26 168.18 L377.47 167.11 L377.68 166.36 L377.89 166.11 L378.10 165.16 L378.31 163.87 L378.52 165.86 L378.73 164.27 L378.94 164.09 L379.15 163.56 L379.37 163.57 L379.58 162.35 L379.79 162.06 L380.00 161.82 L380.21 161.17 L380.42 160.91 L380.63 161.44 L380.84 159.12 L381.05 159.46 L381.26 159.39 L381.48 158.27 L381.69 158.40 L381.90 158.84 L382.11 156.69 L382.32 157.74 L382.53 156.50 L382.74 155.89 L382.95 154.77 L383.16 154.45 L383.38 154.63 L383.59 154.77 L383.80 154.16 L384.01 152.85 L384.22 152.02 L384.43 152.35 L384.64 152.65 L384.85 151.23 L385.06 151.66 L385.27 151.26 L385.48 150.77 L385.70 149.81 L385.91 149.58 L386.12 148.71 L386.33 148.09 L386.54 148.15 L386.75 149.52 L386.96 148.69 L387.17 147.08 L387.38 146.80 L387.59 144.93 L387.81 145.91 L388.02 145.55 L388.23 144.41 L388.44 143.89 L388.65 144.31 L388.86 143.41 L389.07 144.04 L389.28 143.49 L389.49 141.61 L389.70 142.95 L389.92 140.96 L390.13 140.70 L390.34 140.22 L390.55 139.70 L390.76 139.52 L390.97 140.97 L391.18 139.78 L391.39 139.10 L391.60 137.65 L391.81 138.68 L392.03 138.00 L392.24 137.37 L392.45 135.80 L392.66 137.38 L392.87 136.95 L393.08 135.17 L393.29 136.78 L393.50 134.66 L393.71 134.87 L393.92 135.35 L394.14 134.16 L394.35 134.25 L394.56 133.06 L394.77 132.59 L394.98 131.43 L395.19 132.22 L395.40 131.83 L395.61 132.03 L395.82 131.31 L396.03 130.19 L396.25 132.16 L396.46 129.90 L396.67 130.52 L396.88 129.77 L397.09 129.30 L397.30 128.61 L397.51 128.81 L397.72 129.03 L397.93 128.22 L398.14 128.19 L398.36 128.10 L398.57 127.52 L398.78 126.73 L398.99 127.06 L399.20 126.80 L399.41 127.71 L399.62 126.54 L399.83 127.69 L400.04 125.37 L400.25 126.48 L400.47 124.42 L400.68 122.80 L400.89 125.35 L401.10 123.70 L401.31 124.23 L401.52 124.81 L401.73 124.83 L401.94 123.44 L402.15 122.52 L402.36 123.18 L402.58 124.54 L402.79 123.94 L403.00 123.04 L403.21 121.48 L403.42 122.19 L403.63 121.95 L403.84 120.99 L404.05 122.01 L404.26 121.71 L404.47 121.60 L404.69 122.77 L404.90 120.66 L405.11 120.51 L405.32 119.84 L405.53 121.51 L405.74 121.00 L405.95 119.32 L406.16 119.66 L406.37 118.58 L406.58 120.31 L406.80 119.22 L407.01 119.79 L407.22 118.77 L407.43 119.28 L407.64 118.22 L407.85 117.58 L408.06 117.75 L408.27 119.71 L408.48 117.18 L408.69 117.43 L408.91 118.53 L409.12 118.22 L409.33 117.28 L409.54 116.62 L409.75 117.33 L409.96 118.16 L410.17 116.36 L410.38 116.28 L410.59 114.16 L410.80 117.18 L411.02 113.74 L411.23 114.24 L411.44 115.30 L411.65 113.96 L411.86 115.13 L412.07 114.20 L412.28 115.50 L412.49 114.63 L412.70 115.39 L412.91 115.70 L413.13 114.41 L413.34 114.57 L413.55 113.34 L413.76 112.57 L413.97 113.64 L414.18 113.27 L414.39 113.00 L414.60 114.43 L414.81 112.59 L415.02 112.65 L415.24 112.53 L415.45 113.27 L415.66 113.87 L415.87 112.22 L416.08 111.58 L416.29 110.54 L416.50 110.56 L416.71 110.13 L416.92 110.90 L417.13 110.08 L417.35 111.09 L417.56 110.23 L417.77 109.82 L417.98 108.17 L418.19 110.12 L418.40 111.28 L418.61 108.87 L418.82 110.59 L419.03 109.82 L419.25 109.89 L419.46 110.28 L419.67 108.22 L419.88 108.73 L420.09 109.63 L420.30 108.92 L420.51 109.23 L420.72 108.20 L420.93 108.93 L421.14 109.14 L421.35 108.92 L421.57 108.63 L421.78 107.89 L421.99 108.81 L422.20 107.98 L422.41 107.41 L422.62 105.68 L422.83 106.84 L423.04 110.02 L423.25 107.80 L423.46 107.59 L423.68 106.87 L423.89 105.70 L424.10 106.31 L424.31 108.82 L424.52 106.48 L424.73 106.55 L424.94 106.20 L425.15 105.29 L425.36 107.29 L425.57 105.32 L425.79 107.59 L426.00 106.04 L426.21 105.66 L426.42 103.94 L426.63 106.41 L426.84 107.18 L427.05 105.05 L427.26 106.12 L427.47 104.13 L427.69 105.99 L427.90 106.05 L428.11 104.15 L428.32 105.07 L428.53 104.20 L428.74 106.21 L428.95 103.49 L429.16 105.33 L429.37 104.05 L429.58 105.53 L429.79 105.93 L430.01 104.74 L430.22 104.30 L430.43 103.02 L430.64 104.00 L430.85 103.62 L431.06 103.60 L431.27 101.43 L431.48 104.72 L431.69 102.88 L431.90 104.01 L432.12 103.60 L432.33 104.22 L432.54 102.69 L432.75 104.70 L432.96 104.69 L433.17 103.67 L433.38 104.42 L433.59 102.76 L433.80 102.51 L434.01 103.88 L434.23 102.51 L434.44 103.68 L434.65 103.09 L434.86 102.99 L435.07 101.33 L435.28 102.88 L435.49 103.60 L435.70 103.55 L435.91 101.67 L436.12 104.07 L436.34 102.99 L436.55 102.86 L436.76 104.57 L436.97 102.82 L437.18 101.50 L437.39 102.11 L437.60 103.02 L437.81 101.60 L438.02 101.70 L438.23 100.35 L438.45 102.67 L438.66 102.31 L438.87 101.89 L439.08 101.99 L439.29 101.74 L439.50 101.86 L439.71 102.31 L439.92 103.03 L440.13 102.09 L440.34 102.75 L440.56 102.40 L440.77 101.92 L440.98 100.97 L441.19 100.62 L441.40 102.19 L441.61 100.99 L441.82 100.51 L442.03 101.19 L442.24 102.51 L442.45 102.90 L442.67 100.32 L442.88 100.16 L443.09 100.66 L443.30 101.75 L443.51 99.55 L443.72 99.71 L443.93 100.74 L444.14 100.84 L444.35 102.28 L444.56 99.90 L444.78 101.88 L444.99 99.86 L445.20 99.77 L445.41 100.27 L445.62 98.95 L445.83 100.53 L446.04 99.70 L446.25 99.47 L446.46 99.90 L446.67 100.42 L446.89 98.96 L447.10 99.61 L447.31 100.09 L447.52 100.02 L447.73 99.73 L447.94 97.84 L448.15 99.66 L448.36 99.92 L448.57 100.59 L448.78 100.68 L449.00 101.22 L449.21 99.36 L449.42 99.50 L449.63 100.37 L449.84 100.73 L450.05 99.70 L450.26 99.84 L450.47 100.50 L450.68 99.07 L450.89 99.18 L451.11 99.32 L451.32 98.59 L451.53 99.78 L451.74 98.04 L451.95 100.05 L452.16 98.72 L452.37 98.60 L452.58 99.35 L452.79 98.81 L453.00 100.20 L453.22 100.37 L453.43 99.24 L453.64 99.69 L453.85 98.54 L454.06 99.02 L454.27 98.51 L454.48 98.76 L454.69 98.86 L454.90 98.95 L455.11 99.35 L455.33 99.43 L455.54 97.29 L455.75 100.55 L455.96 99.20 L456.17 98.19 L456.38 98.69 L456.59 97.85 L456.80 98.60 L457.01 100.17 L457.22 99.38 L457.44 100.31 L457.65 98.28 L457.86 97.90 L458.07 99.53 L458.28 98.70 L458.49 99.53 L458.70 100.43 L458.91 99.60 L459.12 100.59 L459.33 99.74 L459.55 99.09 L459.76 98.67 L459.97 98.20 L460.18 99.62 L460.39 99.15 L460.60 99.01 L460.81 98.92 L461.02 101.86 L461.23 100.10 L461.44 98.77 L461.66 100.44 L461.87 99.28 L462.08 98.80 L462.29 101.16 L462.50 99.72 L462.71 99.37 L462.92 99.58 L463.13 100.92 L463.34 99.33 L463.55 100.13 L463.77 98.96 L463.98 99.31 L464.19 100.17 L464.40 99.56 L464.61 100.32 L464.82 100.34 L465.03 101.11 L465.24 99.97 L465.45 99.09 L465.66 99.70 L465.88 99.83 L466.09 100.36 L466.30 100.28 L466.51 99.21 L466.72 101.14 L466.93 98.10 L467.14 99.93 L467.35 98.02 L467.56 98.88 L467.77 100.25 L467.99 99.27 L468.20 99.69 L468.41 99.52 L468.62 99.24 L468.83 100.40 L469.04 100.46 L469.25 100.30 L469.46 101.11 L469.67 100.17 L469.88 99.75 L470.10 99.74 L470.31 99.79 L470.52 100.30 L470.73 99.29 L470.94 101.72 L471.15 100.31 L471.36 100.25 L471.57 99.21 L471.78 99.41 L471.99 99.29 L472.21 99.97 L472.42 99.17 L472.63 100.85 L472.84 99.93 L473.05 101.81 L473.26 98.53 L473.47 98.64 L473.68 100.52 L473.89 100.74 L474.10 101.81 L474.32 101.33 L474.53 99.92 L474.74 100.16 L474.95 101.30 L475.16 100.47 L475.37 100.61 L475.58 99.65 L475.79 99.45 L476.00 100.25 L476.21 99.97 L476.43 100.08 L476.64 101.88 L476.85 99.95 L477.06 100.17 L477.27 99.48 L477.48 101.72 L477.69 99.50 L477.90 100.73 L478.11 99.97 L478.32 99.18 L478.54 101.51 L478.75 101.39 L478.96 99.44 L479.17 101.30 L479.38 101.17 L479.59 99.86 L479.80 100.59 L480.01 99.78 L480.22 100.23 L480.44 100.55 L480.65 99.72 L480.86 98.73 L481.07 100.74 L481.28 99.43 L481.49 99.78 L481.70 100.70 L481.91 100.46 L482.12 101.71 L482.33 101.49 L482.54 100.78 L482.76 101.12 L482.97 100.03 L483.18 102.32 L483.39 101.52 L483.60 101.88 L483.81 101.53 L484.02 100.47 L484.23 102.57 L484.44 100.88 L484.65 102.19 L484.87 102.03 L485.08 100.97 L485.29 102.14 L485.50 101.40 L485.71 101.95 L485.92 102.28 L486.13 102.52 L486.34 103.77 L486.55 103.00 L486.76 102.30 L486.98 102.35 L487.19 103.88 L487.40 101.83 L487.61 102.27 L487.82 103.96 L488.03 103.83 L488.24 102.58 L488.45 104.61 L488.66 103.82 L488.88 103.31 L489.09 103.46 L489.30 103.48 L489.51 103.18 L489.72 104.29 L489.93 104.11 L490.14 102.01 L490.35 105.07 L490.56 104.33 L490.77 103.94 L490.98 104.68 L491.20 103.16 L491.41 104.24 L491.62 103.74 L491.83 106.72 L492.04 103.54 L492.25 103.67 L492.46 105.39 L492.67 103.71 L492.88 104.69 L493.09 104.21 L493.31 103.54 L493.52 105.10 L493.73 106.14 L493.94 105.37 L494.15 106.55 L494.36 106.23 L494.57 106.29 L494.78 106.33 L494.99 104.81 L495.20 105.18 L495.42 106.76 L495.63 105.11 L495.84 107.61 L496.05 106.82 L496.26 106.47 L496.47 105.42 L496.68 105.90 L496.89 106.23 L497.10 105.59 L497.31 106.18 L497.53 105.71 L497.74 107.65 L497.95 108.51 L498.16 107.51 L498.37 106.53 L498.58 107.11 L498.79 106.66 L499.00 106.91 L499.21 107.17 L499.42 107.00 L499.64 108.41 L499.85 106.95 L500.06 108.84 L500.27 108.17 L500.48 109.38 L500.69 107.83 L500.90 109.69 L501.11 107.25 L501.32 109.70 L501.53 108.42 L501.75 108.86 L501.96 109.60 L502.17 107.87 L502.38 109.41 L502.59 107.88 L502.80 110.12 L503.01 110.03 L503.22 111.16 L503.43 109.08 L503.64 108.87 L503.86 109.57 L504.07 110.00 L504.28 110.76 L504.49 108.06 L504.70 109.55 L504.91 111.87 L505.12 110.67 L505.33 112.75 L505.54 109.26 L505.75 109.03 L505.97 109.58 L506.18 110.99 L506.39 111.57 L506.60 112.38 L506.81 110.83 L507.02 112.03 L507.23 111.83 L507.44 112.17 L507.65 112.00 L507.86 111.07 L508.08 110.50 L508.29 111.94 L508.50 112.16 L508.71 113.25 L508.92 113.46 L509.13 113.43 L509.34 111.87 L509.55 112.53 L509.76 112.02 L509.97 112.60 L510.19 113.42 L510.40 114.25 L510.61 113.61 L510.82 114.63 L511.03 111.79 L511.24 113.39 L511.45 114.05 L511.66 112.12 L511.87 114.28 L512.09 113.58 L512.30 114.31 L512.51 113.97 L512.72 114.70 L512.93 114.07 L513.14 113.37 L513.35 115.80 L513.56 116.74 L513.77 113.77 L513.98 114.90 L514.20 114.40 L514.41 115.51 L514.62 114.04 L514.83 113.91 L515.04 116.61 L515.25 115.13 L515.46 116.35 L515.67 117.33 L515.88 116.31 L516.09 115.68 L516.30 117.47 L516.52 117.52 L516.73 115.45 L516.94 116.61 L517.15 116.41 L517.36 117.87 L517.57 117.57 L517.78 117.02 L517.99 117.09 L518.20 117.25 L518.41 116.12 L518.63 117.48 L518.84 119.08 L519.05 118.63 L519.26 118.05 L519.47 117.02 L519.68 118.85 L519.89 118.72 L520.10 118.53 L520.31 119.25 L520.52 119.48 L520.74 119.09 L520.95 118.15 L521.16 118.71 L521.37 119.50 L521.58 119.03 L521.79 120.61 L522.00 118.75 L522.21 119.09 L522.42 119.58 L522.63 121.37 L522.85 118.30 L523.06 122.71 L523.27 121.14 L523.48 121.17 L523.69 119.87 L523.90 121.87 L524.11 120.46 L524.32 120.89 L524.53 121.10 L524.75 120.19 L524.96 119.78 L525.17 120.74 L525.38 121.40 L525.59 123.21 L525.80 120.02" stroke="#ff0000" stroke-width="3.8" stroke-dasharray="0 7.4" stroke-linecap="round"/>
<path d="M102.53 257.75 L102.96 257.36 L103.38 256.98 L103.80 256.62 L104.22 256.27 L104.64 255.93 L105.07 255.61 L105.49 255.31 L105.91 255.03 L106.33 254.76 L106.75 254.48 L107.18 254.18 L107.60 253.82 L108.02 253.39 L108.44 252.91 L108.86 252.41 L109.29 251.92 L109.71 251.45 L110.13 251.02 L110.55 250.67 L110.97 250.41 L111.40 250.27 L111.82 250.32 L112.24 250.85 L112.66 251.86 L113.08 253.30 L113.51 255.10 L113.93 257.22 L114.35 259.59 L114.77 262.17 L115.19 264.90 L115.62 267.72 L116.04 270.58 L116.46 273.42 L116.88 276.19 L117.30 278.84 L117.73 281.30 L118.15 283.53 L118.57 285.46 L118.99 287.05 L119.41 288.24 L119.84 288.96 L120.26 289.18 L120.68 289.02 L121.10 288.59 L121.52 287.93 L121.95 287.05 L122.37 285.98 L122.79 284.74 L123.21 283.34 L123.63 281.82 L124.06 280.19 L124.48 278.47 L124.90 276.69 L125.32 274.86 L125.74 273.02 L126.17 271.18 L126.59 269.36 L127.01 267.58 L127.43 265.87 L127.85 264.25 L128.28 262.73 L128.70 261.35 L129.12 260.13 L129.54 259.07 L129.96 258.21 L130.39 257.57 L130.81 257.18 L131.23 257.04 L131.65 257.18 L132.07 257.59 L132.50 258.25 L132.92 259.14 L133.34 260.26 L133.76 261.57 L134.18 263.07 L134.61 264.74 L135.03 266.56 L135.45 268.51 L135.87 270.59 L136.29 272.76 L136.72 275.01 L137.14 277.34 L137.56 279.71 L137.98 282.12 L138.40 284.54 L138.83 286.97 L139.25 289.37 L139.67 291.75 L140.09 294.07 L140.51 296.33 L140.94 298.50 L141.36 300.57 L141.78 302.52 L142.20 304.34 L142.62 306.01 L143.05 307.51 L143.47 308.83 L143.89 309.94 L144.31 310.84 L144.73 311.50 L145.16 311.91 L145.58 312.05 L146.00 311.94 L146.42 311.64 L146.84 311.14 L147.27 310.46 L147.69 309.60 L148.11 308.57 L148.53 307.39 L148.95 306.05 L149.38 304.57 L149.80 302.95 L150.22 301.20 L150.64 299.34 L151.06 297.37 L151.49 295.29 L151.91 293.12 L152.33 290.86 L152.75 288.52 L153.17 286.12 L153.60 283.65 L154.02 281.13 L154.44 278.57 L154.86 275.96 L155.28 273.33 L155.71 270.68 L156.13 268.02 L156.55 265.35 L156.97 262.68 L157.39 260.03 L157.82 257.40 L158.24 254.80 L158.66 252.23 L159.08 249.71 L159.50 247.25 L159.93 244.84 L160.35 242.50 L160.77 240.25 L161.19 238.07 L161.61 236.00 L162.04 234.02 L162.46 232.16 L162.88 230.41 L163.30 228.80 L163.72 227.31 L164.15 225.98 L164.57 224.79 L164.99 223.76 L165.41 222.90 L165.83 222.22 L166.26 221.73 L166.68 221.42 L167.10 221.32 L167.52 221.41 L167.94 221.68 L168.37 222.09 L168.79 222.62 L169.21 223.25 L169.63 223.93 L170.05 224.65 L170.48 225.39 L170.90 226.15 L171.32 227.05 L171.74 228.08 L172.16 229.24 L172.59 230.49 L173.01 231.82 L173.43 233.23 L173.85 234.68 L174.27 236.17 L174.70 237.67 L175.12 239.18 L175.54 240.74 L175.96 242.43 L176.38 244.24 L176.81 246.16 L177.23 248.18 L177.65 250.31 L178.07 252.52 L178.49 254.83 L178.92 257.21 L179.34 259.66 L179.76 262.19 L180.18 264.77 L180.60 267.40 L181.03 270.09 L181.45 272.81 L181.87 275.57 L182.29 278.36 L182.71 281.16 L183.14 283.99 L183.56 286.82 L183.98 289.65 L184.40 292.48 L184.82 295.30 L185.25 298.11 L185.67 300.88 L186.09 303.63 L186.51 306.35 L186.93 309.01 L187.36 311.63 L187.78 314.20 L188.20 316.70 L188.62 319.13 L189.04 321.49 L189.47 323.77 L189.89 325.96 L190.31 328.05 L190.73 330.04 L191.15 331.93 L191.58 333.70 L192.00 335.35 L192.42 336.88 L192.84 338.27 L193.26 339.52 L193.69 340.63 L194.11 341.58 L194.53 342.38 L194.95 343.01 L195.37 343.46 L195.80 343.74 L196.22 343.84 L196.64 343.70 L197.06 343.29 L197.48 342.65 L197.91 341.79 L198.33 340.74 L198.75 339.52 L199.17 338.17 L199.59 336.70 L200.02 335.13 L200.44 333.51 L200.86 331.84 L201.28 330.15 L201.70 328.48 L202.13 326.66 L202.55 324.54 L202.97 322.16 L203.39 319.55 L203.81 316.75 L204.24 313.79 L204.66 310.70 L205.08 307.53 L205.50 304.29 L205.92 301.04 L206.35 297.79 L206.77 294.59 L207.19 291.48 L207.61 288.47 L208.03 285.51 L208.46 282.51 L208.88 279.47 L209.30 276.40 L209.72 273.31 L210.14 270.20 L210.57 267.08 L210.99 263.97 L211.41 260.86 L211.83 257.76 L212.25 254.68 L212.68 251.63 L213.10 248.62 L213.52 245.64 L213.94 242.71 L214.36 239.84 L214.79 237.03 L215.21 234.23 L215.63 231.37 L216.05 228.48 L216.47 225.57 L216.90 222.66 L217.32 219.76 L217.74 216.89 L218.16 214.07 L218.58 211.31 L219.01 208.63 L219.43 206.05 L219.85 203.57 L220.27 201.23 L220.69 199.03 L221.12 196.99 L221.54 195.13 L221.96 193.46 L222.38 191.89 L222.80 190.32 L223.23 188.77 L223.65 187.21 L224.07 185.67 L224.49 184.14 L224.91 182.61 L225.34 181.11 L225.76 179.61 L226.18 178.14 L226.60 176.68 L227.02 175.25 L227.45 173.84 L227.87 172.45 L228.29 171.09 L228.71 169.76 L229.13 168.46 L229.56 167.19 L229.98 165.95 L230.40 164.75 L230.82 163.59 L231.24 162.47 L231.67 161.38 L232.09 160.34 L232.51 159.35 L232.93 158.40 L233.35 157.50 L233.78 156.65 L234.20 155.85 L234.62 155.10 L235.04 154.41 L235.46 153.78 L235.89 153.20 L236.31 152.69 L236.73 152.24 L237.15 151.85 L237.57 151.53 L238.00 151.28 L238.42 151.10 L238.84 150.99 L239.26 150.95 L239.68 150.98 L240.11 151.09 L240.53 151.25 L240.95 151.48 L241.37 151.77 L241.79 152.12 L242.22 152.51 L242.64 152.96 L243.06 153.45 L243.48 153.98 L243.90 154.56 L244.33 155.17 L244.75 155.82 L245.17 156.49 L245.59 157.20 L246.01 157.92 L246.44 158.67 L246.86 159.44 L247.28 160.23 L247.70 161.02 L248.12 161.83 L248.55 162.64 L248.97 163.45 L249.39 164.36 L249.81 165.45 L250.23 166.68 L250.66 168.03 L251.08 169.45 L251.50 170.91 L251.92 172.39 L252.34 173.85 L252.77 175.25 L253.19 176.57 L253.61 177.83 L254.03 179.05 L254.45 180.26 L254.88 181.46 L255.30 182.67 L255.72 183.89 L256.14 185.14 L256.56 186.43 L256.99 187.77 L257.41 189.17 L257.83 190.62 L258.25 192.11 L258.67 193.64 L259.10 195.19 L259.52 196.78 L259.94 198.40 L260.36 200.05 L260.78 201.72 L261.21 203.42 L261.63 205.15 L262.05 206.89 L262.47 208.66 L262.89 210.45 L263.32 212.26 L263.74 214.08 L264.16 215.93 L264.58 217.78 L265.00 219.65 L265.43 221.53 L265.85 223.42 L266.27 225.32 L266.69 227.23 L267.11 229.14 L267.54 231.06 L267.96 232.98 L268.38 234.90 L268.80 236.82 L269.22 238.74 L269.65 240.66 L270.07 242.62 L270.49 244.62 L270.91 246.66 L271.33 248.74 L271.76 250.84 L272.18 252.97 L272.60 255.13 L273.02 257.30 L273.44 259.49 L273.87 261.69 L274.29 263.90 L274.71 266.11 L275.13 268.32 L275.55 270.52 L275.98 272.72 L276.40 274.90 L276.82 277.07 L277.24 279.22 L277.66 281.35 L278.09 283.45 L278.51 285.52 L278.93 287.55 L279.35 289.54 L279.77 291.49 L280.20 293.39 L280.62 295.25 L281.04 297.04 L281.46 298.82 L281.88 300.61 L282.31 302.40 L282.73 304.21 L283.15 306.02 L283.57 307.82 L283.99 309.63 L284.42 311.44 L284.84 313.23 L285.26 315.02 L285.68 316.80 L286.10 318.56 L286.53 320.31 L286.95 322.04 L287.37 323.74 L287.79 325.43 L288.21 327.08 L288.64 328.71 L289.06 330.30 L289.48 331.86 L289.90 333.38 L290.32 334.87 L290.75 336.31 L291.17 337.70 L291.59 339.05 L292.01 340.35 L292.43 341.60 L292.86 342.79 L293.28 343.92 L293.70 344.99 L294.12 346.01 L294.54 346.95 L294.97 347.83 L295.39 348.64 L295.81 349.43 L296.23 350.21 L296.65 351.00 L297.08 351.78 L297.50 352.56 L297.92 353.33 L298.34 354.09 L298.76 354.84 L299.19 355.57 L299.61 356.29 L300.03 356.99 L300.45 357.67 L300.87 358.33 L301.30 358.96 L301.72 359.57 L302.14 360.15 L302.56 360.70 L302.98 361.22 L303.41 361.70 L303.83 362.15 L304.25 362.56 L304.67 362.92 L305.09 363.25 L305.52 363.53 L305.94 363.77 L306.36 363.95 L306.78 364.09 L307.20 364.17 L307.63 364.20 L308.05 364.17 L308.47 364.09 L308.89 363.97 L309.31 363.79 L309.74 363.57 L310.16 363.30 L310.58 362.98 L311.00 362.63 L311.42 362.23 L311.85 361.79 L312.27 361.31 L312.69 360.80 L313.11 360.25 L313.53 359.67 L313.96 359.05 L314.38 358.40 L314.80 357.73 L315.22 357.02 L315.64 356.29 L316.07 355.53 L316.49 354.74 L316.91 353.94 L317.33 353.11 L317.75 352.27 L318.18 351.40 L318.60 350.52 L319.02 349.62 L319.44 348.71 L319.86 347.78 L320.29 346.85 L320.71 345.90 L321.13 344.95 L321.55 343.99 L321.97 343.02 L322.40 342.05 L322.82 341.08 L323.24 340.10 L323.66 339.13 L324.08 338.16 L324.51 337.19 L324.93 336.22 L325.35 335.26 L325.77 334.31 L326.19 333.31 L326.62 332.27 L327.04 331.19 L327.46 330.05 L327.88 328.88 L328.30 327.67 L328.73 326.42 L329.15 325.13 L329.57 323.80 L329.99 322.44 L330.41 321.05 L330.84 319.63 L331.26 318.18 L331.68 316.70 L332.10 315.20 L332.52 313.67 L332.95 312.13 L333.37 310.56 L333.79 308.97 L334.21 307.37 L334.63 305.75 L335.06 304.12 L335.48 302.47 L335.90 300.82 L336.32 299.16 L336.74 297.49 L337.17 295.82 L337.59 294.14 L338.01 292.46 L338.43 290.78 L338.85 289.11 L339.28 287.44 L339.70 285.77 L340.12 284.11 L340.54 282.46 L340.96 280.80 L341.39 279.19 L341.81 277.57 L342.23 275.95 L342.65 274.40 L343.07 272.74 L343.50 271.08 L343.92 269.44 L344.34 267.77 L344.76 266.15 L345.18 264.39 L345.61 262.75 L346.03 260.90 L346.45 259.06 L346.87 257.62 L347.29 256.03 L347.72 254.13 L348.14 252.30 L348.56 250.48 L348.77 249.60 L348.98 248.94 L349.19 248.07 L349.40 246.95 L349.61 246.37 L349.83 245.22 L350.04 244.52 L350.25 243.51 L350.46 242.65 L350.67 241.77 L350.88 240.89 L351.09 240.30 L351.30 239.24 L351.51 238.42 L351.72 237.51 L351.94 236.51 L352.15 235.89 L352.36 235.11 L352.57 234.26 L352.78 233.35 L352.99 232.32 L353.20 231.75 L353.41 230.56 L353.62 229.88 L353.83 229.15 L354.05 228.53 L354.26 227.41 L354.47 226.50 L354.68 226.17 L354.89 224.77 L355.10 223.87 L355.31 223.33 L355.52 222.49 L355.73 221.27 L355.94 220.72 L356.16 220.37 L356.37 219.38 L356.58 218.60 L356.79 217.80 L357.00 217.51 L357.21 216.00 L357.42 215.53 L357.63 214.54 L357.84 213.82 L358.06 212.79 L358.27 212.29 L358.48 211.63 L358.69 210.52 L358.90 209.52 L359.11 209.18 L359.32 207.97 L359.53 207.49 L359.74 206.94 L359.95 205.63 L360.16 205.50 L360.38 204.25 L360.59 203.92 L360.80 202.91 L361.01 202.64 L361.22 201.80 L361.43 200.52 L361.64 200.05 L361.85 199.37 L362.06 198.79 L362.27 197.82 L362.49 197.67 L362.70 196.88 L362.91 195.89 L363.12 195.42 L363.33 194.69 L363.54 193.81 L363.75 193.16 L363.96 192.52 L364.17 191.23 L364.38 190.78 L364.60 190.04 L364.81 189.79 L365.02 189.29 L365.23 188.96 L365.44 187.92 L365.65 187.86 L365.86 186.68 L366.07 185.54 L366.28 184.57 L366.50 184.14 L366.71 184.12 L366.92 182.96 L367.13 182.76 L367.34 181.49 L367.55 181.15 L367.76 180.11 L367.97 178.77 L368.18 178.70 L368.39 177.47 L368.60 177.60 L368.82 177.09 L369.03 175.73 L369.24 174.87 L369.45 175.06 L369.66 174.10 L369.87 174.00 L370.08 172.79 L370.29 171.64 L370.50 171.34 L370.71 170.84 L370.93 170.50 L371.14 169.06 L371.35 168.19 L371.56 167.60 L371.77 167.07 L371.98 167.06 L372.19 165.08 L372.40 165.21 L372.61 164.61 L372.82 163.58 L373.04 164.24 L373.25 162.68 L373.46 162.09 L373.67 161.25 L373.88 160.20 L374.09 160.00 L374.30 160.47 L374.51 159.19 L374.72 158.36 L374.94 157.81 L375.15 157.91 L375.36 157.53 L375.57 155.90 L375.78 155.44 L375.99 155.06 L376.20 155.33 L376.41 153.07 L376.62 154.83 L376.83 153.03 L377.04 151.26 L377.26 151.85 L377.47 151.12 L377.68 151.30 L377.89 149.48 L378.10 150.32 L378.31 149.00 L378.52 148.54 L378.73 148.64 L378.94 147.12 L379.15 147.82 L379.37 146.93 L379.58 146.08 L379.79 145.79 L380.00 144.82 L380.21 144.09 L380.42 144.26 L380.63 143.92 L380.84 143.43 L381.05 142.88 L381.26 141.75 L381.48 141.86 L381.69 141.05 L381.90 140.88 L382.11 140.86 L382.32 139.44 L382.53 140.09 L382.74 139.06 L382.95 137.77 L383.16 138.85 L383.38 137.83 L383.59 138.32 L383.80 137.28 L384.01 137.46 L384.22 136.39 L384.43 136.11 L384.64 135.32 L384.85 134.06 L385.06 134.47 L385.27 133.87 L385.48 133.94 L385.70 133.69 L385.91 133.70 L386.12 133.95 L386.33 132.44 L386.54 131.11 L386.75 131.49 L386.96 131.80 L387.17 130.07 L387.38 131.07 L387.59 130.86 L387.81 130.92 L388.02 130.44 L388.23 129.65 L388.44 127.87 L388.65 129.00 L388.86 129.23 L389.07 128.64 L389.28 128.07 L389.49 128.76 L389.70 127.23 L389.92 126.54 L390.13 126.49 L390.34 126.00 L390.55 126.99 L390.76 126.98 L390.97 124.64 L391.18 124.47 L391.39 126.01 L391.60 124.51 L391.81 124.35 L392.03 123.70 L392.24 123.65 L392.45 123.87 L392.66 123.10 L392.87 122.85 L393.08 122.72 L393.29 123.75 L393.50 124.32 L393.71 122.46 L393.92 122.81 L394.14 121.18 L394.35 120.58 L394.56 120.66 L394.77 120.87 L394.98 120.30 L395.19 119.23 L395.40 120.41 L395.61 118.93 L395.82 118.85 L396.03 118.95 L396.25 117.81 L396.46 119.24 L396.67 117.74 L396.88 118.96 L397.09 118.61 L397.30 118.62 L397.51 117.24 L397.72 118.11 L397.93 117.13 L398.14 117.86 L398.36 115.92 L398.57 115.10 L398.78 116.18 L398.99 114.85 L399.20 115.52 L399.41 114.03 L399.62 115.50 L399.83 116.67 L400.04 114.00 L400.25 115.13 L400.47 115.69 L400.68 115.21 L400.89 115.83 L401.10 114.45 L401.31 115.03 L401.52 112.73 L401.73 113.24 L401.94 115.02 L402.15 114.73 L402.36 113.77 L402.58 114.76 L402.79 113.06 L403.00 112.85 L403.21 113.31 L403.42 112.96 L403.63 111.91 L403.84 110.96 L404.05 110.74 L404.26 111.84 L404.47 110.98 L404.69 112.20 L404.90 111.06 L405.11 112.09 L405.32 110.49 L405.53 112.03 L405.74 111.65 L405.95 110.69 L406.16 110.06 L406.37 111.63 L406.58 110.71 L406.80 110.00 L407.01 109.78 L407.22 110.55 L407.43 109.61 L407.64 109.79 L407.85 108.22 L408.06 108.81 L408.27 110.29 L408.48 110.90 L408.69 108.80 L408.91 107.74 L409.12 108.47 L409.33 107.73 L409.54 108.78 L409.75 109.40 L409.96 107.47 L410.17 107.90 L410.38 107.27 L410.59 108.92 L410.80 107.46 L411.02 108.03 L411.23 106.68 L411.44 107.75 L411.65 107.66 L411.86 107.52 L412.07 105.82 L412.28 106.77 L412.49 107.34 L412.70 107.45 L412.91 107.36 L413.13 105.11 L413.34 107.81 L413.55 106.88 L413.76 105.51 L413.97 104.94 L414.18 105.98 L414.39 105.09 L414.60 105.02 L414.81 104.73 L415.02 105.45 L415.24 103.98 L415.45 105.13 L415.66 103.90 L415.87 106.07 L416.08 104.24 L416.29 106.05 L416.50 106.18 L416.71 104.39 L416.92 105.45 L417.13 104.28 L417.35 105.51 L417.56 103.15 L417.77 104.45 L417.98 105.36 L418.19 104.18 L418.40 103.51 L418.61 104.87 L418.82 103.71 L419.03 102.34 L419.25 103.29 L419.46 103.99 L419.67 104.42 L419.88 103.38 L420.09 105.13 L420.30 106.38 L420.51 104.30 L420.72 104.61 L420.93 102.14 L421.14 103.48 L421.35 104.40 L421.57 104.51 L421.78 103.04 L421.99 104.14 L422.20 103.89 L422.41 103.43 L422.62 103.24 L422.83 103.19 L423.04 103.14 L423.25 102.08 L423.46 101.71 L423.68 104.55 L423.89 100.89 L424.10 102.95 L424.31 101.96 L424.52 103.63 L424.73 102.69 L424.94 102.75 L425.15 102.81 L425.36 102.14 L425.57 102.30 L425.79 103.68 L426.00 102.89 L426.21 102.13 L426.42 102.14 L426.63 102.99 L426.84 102.91 L427.05 102.78 L427.26 103.56 L427.47 103.69 L427.69 101.22 L427.90 102.88 L428.11 102.43 L428.32 103.13 L428.53 101.35 L428.74 100.93 L428.95 102.60 L429.16 101.94 L429.37 103.00 L429.58 100.82 L429.79 101.51 L430.01 103.00 L430.22 101.19 L430.43 101.92 L430.64 101.85 L430.85 101.88 L431.06 102.73 L431.27 102.60 L431.48 101.58 L431.69 102.13 L431.90 102.87 L432.12 100.30 L432.33 102.19 L432.54 102.47 L432.75 102.56 L432.96 101.35 L433.17 101.08 L433.38 101.68 L433.59 101.12 L433.80 103.13 L434.01 102.14 L434.23 102.20 L434.44 101.77 L434.65 101.33 L434.86 103.47 L435.07 99.02 L435.28 102.42 L435.49 101.36 L435.70 100.92 L435.91 100.87 L436.12 101.38 L436.34 104.05 L436.55 102.47 L436.76 100.87 L436.97 102.28 L437.18 102.38 L437.39 103.47 L437.60 100.39 L437.81 100.98 L438.02 102.16 L438.23 101.49 L438.45 101.44 L438.66 102.29 L438.87 101.55 L439.08 101.08 L439.29 100.81 L439.50 100.18 L439.71 101.23 L439.92 101.63 L440.13 100.88 L440.34 101.75 L440.56 102.27 L440.77 100.20 L440.98 101.49 L441.19 101.05 L441.40 100.59 L441.61 102.08 L441.82 100.57 L442.03 100.73 L442.24 101.19 L442.45 100.76 L442.67 101.74 L442.88 102.98 L443.09 101.32 L443.30 101.86 L443.51 100.33 L443.72 100.85 L443.93 101.53 L444.14 101.03 L444.35 99.91 L444.56 100.10 L444.78 100.76 L444.99 100.71 L445.20 101.32 L445.41 101.20 L445.62 100.59 L445.83 101.21 L446.04 100.86 L446.25 102.08 L446.46 102.57 L446.67 102.61 L446.89 101.54 L447.10 100.04 L447.31 100.17 L447.52 102.06 L447.73 102.55 L447.94 100.56 L448.15 100.86 L448.36 102.45 L448.57 100.38 L448.78 101.16 L449.00 100.20 L449.21 101.06 L449.42 100.61 L449.63 101.12 L449.84 102.24 L450.05 101.64 L450.26 102.05 L450.47 100.78 L450.68 102.37 L450.89 102.86 L451.11 100.98 L451.32 100.61 L451.53 100.38 L451.74 100.71 L451.95 102.97 L452.16 102.30 L452.37 102.20 L452.58 101.78 L452.79 103.63 L453.00 101.83 L453.22 101.61 L453.43 102.69 L453.64 101.81 L453.85 100.92 L454.06 101.93 L454.27 101.09 L454.48 101.16 L454.69 101.71 L454.90 101.76 L455.11 102.44 L455.33 101.09 L455.54 102.59 L455.75 102.82 L455.96 101.65 L456.17 102.91 L456.38 101.96 L456.59 101.45 L456.80 102.32 L457.01 102.33 L457.22 101.67 L457.44 101.85 L457.65 103.85 L457.86 103.69 L458.07 101.46 L458.28 102.30 L458.49 104.46 L458.70 103.87 L458.91 102.73 L459.12 103.63 L459.33 102.42 L459.55 102.80 L459.76 102.48 L459.97 103.94 L460.18 102.45 L460.39 101.34 L460.60 103.74 L460.81 101.98 L461.02 102.30 L461.23 102.63 L461.44 103.28 L461.66 104.27 L461.87 104.07 L462.08 102.70 L462.29 102.56 L462.50 102.39 L462.71 102.66 L462.92 102.76 L463.13 103.95 L463.34 104.66 L463.55 103.49 L463.77 103.29 L463.98 103.69 L464.19 105.11 L464.40 104.30 L464.61 105.17 L464.82 103.83 L465.03 104.90 L465.24 104.20 L465.45 103.83 L465.66 104.03 L465.88 103.03 L466.09 105.20 L466.30 106.18 L466.51 103.55 L466.72 103.21 L466.93 103.23 L467.14 104.27 L467.35 104.11 L467.56 104.52 L467.77 105.79 L467.99 105.22 L468.20 104.36 L468.41 105.34 L468.62 103.27 L468.83 106.28 L469.04 105.39 L469.25 104.13 L469.46 105.66 L469.67 106.17 L469.88 106.43 L470.10 105.94 L470.31 104.09 L470.52 105.10 L470.73 105.07 L470.94 106.02 L471.15 104.91 L471.36 105.61 L471.57 106.56 L471.78 106.22 L471.99 105.73 L472.21 104.96 L472.42 106.09 L472.63 105.68 L472.84 104.44 L473.05 106.93 L473.26 107.38 L473.47 105.54 L473.68 106.08 L473.89 106.61 L474.10 106.37 L474.32 106.95 L474.53 106.30 L474.74 107.10 L474.95 106.20 L475.16 107.97 L475.37 107.74 L475.58 107.01 L475.79 107.59 L476.00 106.67 L476.21 107.38 L476.43 107.88 L476.64 107.31 L476.85 108.02 L477.06 108.98 L477.27 108.70 L477.48 108.49 L477.69 108.28 L477.90 107.88 L478.11 107.26 L478.32 107.64 L478.54 106.67 L478.75 107.18 L478.96 108.52 L479.17 107.02 L479.38 107.51 L479.59 108.99 L479.80 108.42 L480.01 107.83 L480.22 108.64 L480.44 108.06 L480.65 108.68 L480.86 108.50 L481.07 109.46 L481.28 108.95 L481.49 109.67 L481.70 108.87 L481.91 110.99 L482.12 109.34 L482.33 108.65 L482.54 109.31 L482.76 109.92 L482.97 109.53 L483.18 110.81 L483.39 110.90 L483.60 110.59 L483.81 110.50 L484.02 109.65 L484.23 111.34 L484.44 109.82 L484.65 112.12 L484.87 111.55 L485.08 111.01 L485.29 110.09 L485.50 111.72 L485.71 113.14 L485.92 111.05 L486.13 111.54 L486.34 112.55 L486.55 112.63 L486.76 112.45 L486.98 111.88 L487.19 111.51 L487.40 113.46 L487.61 110.35 L487.82 112.47 L488.03 112.87 L488.24 112.10 L488.45 112.70 L488.66 110.92 L488.88 112.10 L489.09 113.48 L489.30 113.63 L489.51 113.85 L489.72 113.84 L489.93 113.10 L490.14 114.36 L490.35 112.55 L490.56 114.14 L490.77 114.32 L490.98 113.51 L491.20 116.15 L491.41 115.39 L491.62 114.21 L491.83 114.84 L492.04 114.99 L492.25 114.78 L492.46 115.76 L492.67 115.53 L492.88 116.68 L493.09 117.25 L493.31 114.69 L493.52 116.70 L493.73 116.65 L493.94 114.97 L494.15 115.39 L494.36 116.87 L494.57 117.01 L494.78 116.75 L494.99 117.63 L495.20 116.46 L495.42 116.93 L495.63 117.07 L495.84 116.66 L496.05 116.82 L496.26 115.98 L496.47 116.38 L496.68 119.27 L496.89 117.15 L497.10 119.00 L497.31 119.39 L497.53 117.68 L497.74 119.01 L497.95 118.80 L498.16 117.73 L498.37 119.33 L498.58 119.65 L498.79 118.72 L499.00 118.07 L499.21 118.79 L499.42 120.69 L499.64 120.04 L499.85 119.73 L500.06 118.06 L500.27 119.07 L500.48 119.23 L500.69 119.04 L500.90 120.46 L501.11 119.91 L501.32 120.02 L501.53 121.40 L501.75 120.70 L501.96 120.33 L502.17 121.86 L502.38 120.37 L502.59 120.54 L502.80 120.43 L503.01 122.11 L503.22 121.48 L503.43 120.46 L503.64 121.16 L503.86 122.65 L504.07 121.91 L504.28 121.02 L504.49 122.44 L504.70 122.19 L504.91 120.45 L505.12 122.83 L505.33 123.03 L505.54 123.94 L505.75 123.79 L505.97 122.09 L506.18 123.63 L506.39 124.68 L506.60 124.61 L506.81 123.95 L507.02 123.45 L507.23 124.90 L507.44 123.80 L507.65 124.98 L507.86 124.41 L508.08 124.43 L508.29 124.51 L508.50 125.56 L508.71 125.49 L508.92 125.07 L509.13 126.78 L509.34 125.68 L509.55 125.55 L509.76 125.26 L509.97 126.35 L510.19 126.64 L510.40 126.52 L510.61 127.44 L510.82 127.16 L511.03 126.79 L511.24 127.07 L511.45 128.38 L511.66 127.93 L511.87 129.63 L512.09 127.31 L512.30 128.62 L512.51 128.13 L512.72 129.45 L512.93 128.76 L513.14 128.48 L513.35 128.19 L513.56 130.38 L513.77 128.66 L513.98 129.70 L514.20 130.41 L514.41 129.51 L514.62 130.35 L514.83 130.53 L515.04 131.06 L515.25 130.45 L515.46 130.79 L515.67 131.15 L515.88 132.00 L516.09 131.80 L516.30 131.20 L516.52 130.63 L516.73 131.93 L516.94 130.88 L517.15 132.29 L517.36 133.40 L517.57 132.10 L517.78 133.66 L517.99 132.67 L518.20 132.28 L518.41 133.64 L518.63 133.64 L518.84 131.63 L519.05 133.72 L519.26 133.88 L519.47 133.62 L519.68 134.56 L519.89 134.73 L520.10 134.50 L520.31 137.06 L520.52 133.97 L520.74 136.27 L520.95 136.46 L521.16 135.24 L521.37 135.85 L521.58 137.11 L521.79 136.03 L522.00 137.35 L522.21 137.13 L522.42 137.98 L522.63 137.56 L522.85 136.66 L523.06 137.04 L523.27 137.03 L523.48 136.65 L523.69 137.61 L523.90 138.28 L524.11 138.08 L524.32 136.56 L524.53 138.06 L524.75 137.93 L524.96 138.40 L525.17 138.22 L525.38 138.16 L525.59 138.64 L525.80 138.86" stroke="#00ff00" stroke-width="3.5" stroke-dasharray="4.8 8.8" stroke-linecap="round"/>
<path d="M103.80 262.04 L104.22 259.43 L104.64 257.11 L105.07 255.09 L105.49 253.40 L105.91 252.05 L106.33 251.06 L106.75 250.46 L107.18 250.25 L107.60 250.45 L108.02 251.01 L108.44 251.89 L108.86 253.05 L109.29 254.43 L109.71 256.00 L110.13 257.70 L110.55 259.49 L110.97 261.32 L111.40 263.82 L111.82 266.99 L112.24 269.90 L112.66 272.46 L113.08 275.15 L113.51 277.92 L113.93 280.67 L114.35 283.33 L114.77 285.84 L115.19 288.11 L115.62 290.08 L116.04 291.66 L116.46 292.79 L116.88 293.39 L117.30 293.43 L117.73 293.13 L118.15 292.55 L118.57 291.71 L118.99 290.65 L119.41 289.38 L119.84 287.93 L120.26 286.33 L120.68 284.60 L121.10 282.78 L121.52 280.87 L121.95 278.91 L122.37 276.93 L122.79 274.94 L123.21 272.98 L123.63 271.07 L124.06 269.23 L124.48 267.49 L124.90 265.88 L125.32 264.41 L125.74 263.13 L126.17 262.04 L126.59 261.18 L127.01 260.57 L127.43 260.24 L127.85 260.21 L128.28 260.49 L128.70 261.05 L129.12 261.86 L129.54 262.89 L129.96 264.10 L130.39 265.46 L130.81 266.94 L131.23 268.49 L131.65 270.10 L132.07 271.71 L132.50 273.32 L132.92 274.86 L133.34 276.33 L133.76 277.84 L134.18 279.53 L134.61 281.40 L135.03 283.40 L135.45 285.52 L135.87 287.74 L136.29 290.03 L136.72 292.38 L137.14 294.75 L137.56 297.13 L137.98 299.50 L138.40 301.82 L138.83 304.09 L139.25 306.27 L139.67 308.34 L140.09 310.28 L140.51 312.08 L140.94 313.69 L141.36 315.11 L141.78 316.31 L142.20 317.27 L142.62 317.97 L143.05 318.37 L143.47 318.47 L143.89 318.31 L144.31 317.92 L144.73 317.32 L145.16 316.51 L145.58 315.51 L146.00 314.33 L146.42 312.96 L146.84 311.44 L147.27 309.75 L147.69 307.92 L148.11 305.96 L148.53 303.87 L148.95 301.66 L149.38 299.34 L149.80 296.93 L150.22 294.43 L150.64 291.85 L151.06 289.21 L151.49 286.51 L151.91 283.76 L152.33 280.97 L152.75 278.15 L153.17 275.31 L153.60 272.47 L154.02 269.63 L154.44 266.79 L154.86 263.98 L155.28 261.20 L155.71 258.46 L156.13 255.77 L156.55 253.13 L156.97 250.57 L157.39 248.09 L157.82 245.70 L158.24 243.40 L158.66 241.21 L159.08 239.15 L159.50 237.21 L159.93 235.41 L160.35 233.75 L160.77 232.26 L161.19 230.93 L161.61 229.78 L162.04 228.82 L162.46 228.05 L162.88 227.49 L163.30 227.15 L163.72 227.03 L164.15 227.15 L164.57 227.48 L164.99 228.00 L165.41 228.71 L165.83 229.57 L166.26 230.56 L166.68 231.67 L167.10 232.88 L167.52 234.16 L167.94 235.50 L168.37 236.88 L168.79 238.28 L169.21 239.67 L169.63 241.04 L170.05 242.36 L170.48 243.68 L170.90 245.10 L171.32 246.65 L171.74 248.31 L172.16 250.08 L172.59 251.95 L173.01 253.91 L173.43 255.96 L173.85 258.10 L174.27 260.32 L174.70 262.60 L175.12 264.96 L175.54 267.37 L175.96 269.84 L176.38 272.36 L176.81 274.92 L177.23 277.52 L177.65 280.14 L178.07 282.80 L178.49 285.47 L178.92 288.16 L179.34 290.85 L179.76 293.55 L180.18 296.24 L180.60 298.92 L181.03 301.59 L181.45 304.24 L181.87 306.85 L182.29 309.44 L182.71 311.98 L183.14 314.49 L183.56 316.94 L183.98 319.33 L184.40 321.66 L184.82 323.92 L185.25 326.11 L185.67 328.22 L186.09 330.25 L186.51 332.18 L186.93 334.01 L187.36 335.74 L187.78 337.37 L188.20 338.87 L188.62 340.26 L189.04 341.52 L189.47 342.65 L189.89 343.63 L190.31 344.48 L190.73 345.17 L191.15 345.71 L191.58 346.09 L192.00 346.29 L192.42 346.32 L192.84 345.98 L193.26 345.26 L193.69 344.21 L194.11 342.87 L194.53 341.29 L194.95 339.51 L195.37 337.58 L195.80 335.56 L196.22 333.48 L196.64 331.39 L197.06 329.34 L197.48 327.37 L197.91 325.34 L198.33 323.16 L198.75 320.85 L199.17 318.42 L199.59 315.89 L200.02 313.25 L200.44 310.53 L200.86 307.74 L201.28 304.89 L201.70 301.98 L202.13 299.03 L202.55 296.06 L202.97 293.07 L203.39 290.07 L203.81 287.08 L204.24 284.11 L204.66 281.16 L205.08 278.13 L205.50 275.02 L205.92 271.83 L206.35 268.57 L206.77 265.28 L207.19 261.96 L207.61 258.62 L208.03 255.29 L208.46 251.98 L208.88 248.71 L209.30 245.49 L209.72 242.34 L210.14 239.28 L210.57 236.32 L210.99 233.38 L211.41 230.38 L211.83 227.33 L212.25 224.27 L212.68 221.20 L213.10 218.15 L213.52 215.14 L213.94 212.18 L214.36 209.30 L214.79 206.51 L215.21 203.84 L215.63 201.30 L216.05 198.92 L216.47 196.71 L216.90 194.69 L217.32 192.89 L217.74 191.31 L218.16 189.87 L218.58 188.43 L219.01 187.01 L219.43 185.59 L219.85 184.19 L220.27 182.81 L220.69 181.44 L221.12 180.10 L221.54 178.77 L221.96 177.46 L222.38 176.17 L222.80 174.91 L223.23 173.68 L223.65 172.47 L224.07 171.28 L224.49 170.13 L224.91 169.01 L225.34 167.92 L225.76 166.86 L226.18 165.84 L226.60 164.86 L227.02 163.91 L227.45 163.00 L227.87 162.13 L228.29 161.31 L228.71 160.52 L229.13 159.79 L229.56 159.09 L229.98 158.45 L230.40 157.85 L230.82 157.31 L231.24 156.81 L231.67 156.37 L232.09 155.98 L232.51 155.65 L232.93 155.38 L233.35 155.16 L233.78 155.00 L234.20 154.91 L234.62 154.88 L235.04 154.92 L235.46 155.06 L235.89 155.27 L236.31 155.57 L236.73 155.93 L237.15 156.37 L237.57 156.87 L238.00 157.43 L238.42 158.04 L238.84 158.70 L239.26 159.40 L239.68 160.15 L240.11 160.92 L240.53 161.73 L240.95 162.56 L241.37 163.42 L241.79 164.29 L242.22 165.16 L242.64 166.05 L243.06 166.93 L243.48 167.81 L243.90 168.68 L244.33 169.54 L244.75 170.39 L245.17 171.29 L245.59 172.22 L246.01 173.21 L246.44 174.23 L246.86 175.30 L247.28 176.41 L247.70 177.56 L248.12 178.75 L248.55 179.98 L248.97 181.25 L249.39 182.55 L249.81 183.89 L250.23 185.26 L250.66 186.67 L251.08 188.14 L251.50 189.68 L251.92 191.30 L252.34 192.98 L252.77 194.73 L253.19 196.53 L253.61 198.39 L254.03 200.30 L254.45 202.26 L254.88 204.26 L255.30 206.30 L255.72 208.37 L256.14 210.46 L256.56 212.59 L256.99 214.73 L257.41 216.89 L257.83 219.06 L258.25 221.23 L258.67 223.41 L259.10 225.59 L259.52 227.76 L259.94 229.92 L260.36 232.06 L260.78 234.19 L261.21 236.29 L261.63 238.37 L262.05 240.46 L262.47 242.59 L262.89 244.73 L263.32 246.90 L263.74 249.09 L264.16 251.30 L264.58 253.52 L265.00 255.75 L265.43 257.99 L265.85 260.24 L266.27 262.48 L266.69 264.73 L267.11 266.97 L267.54 269.20 L267.96 271.43 L268.38 273.64 L268.80 275.84 L269.22 278.02 L269.65 280.17 L270.07 282.31 L270.49 284.41 L270.91 286.49 L271.33 288.53 L271.76 290.54 L272.18 292.50 L272.60 294.44 L273.02 296.39 L273.44 298.36 L273.87 300.34 L274.29 302.34 L274.71 304.35 L275.13 306.36 L275.55 308.37 L275.98 310.37 L276.40 312.37 L276.82 314.36 L277.24 316.33 L277.66 318.28 L278.09 320.20 L278.51 322.10 L278.93 323.97 L279.35 325.80 L279.77 327.59 L280.20 329.33 L280.62 331.03 L281.04 332.68 L281.46 334.27 L281.88 335.80 L282.31 337.26 L282.73 338.66 L283.15 339.98 L283.57 341.23 L283.99 342.40 L284.42 343.48 L284.84 344.48 L285.26 345.43 L285.68 346.38 L286.10 347.33 L286.53 348.28 L286.95 349.22 L287.37 350.16 L287.79 351.08 L288.21 352.00 L288.64 352.91 L289.06 353.80 L289.48 354.67 L289.90 355.53 L290.32 356.38 L290.75 357.20 L291.17 358.00 L291.59 358.78 L292.01 359.53 L292.43 360.25 L292.86 360.95 L293.28 361.61 L293.70 362.25 L294.12 362.85 L294.54 363.41 L294.97 363.94 L295.39 364.43 L295.81 364.88 L296.23 365.29 L296.65 365.65 L297.08 365.97 L297.50 366.24 L297.92 366.47 L298.34 366.64 L298.76 366.76 L299.19 366.83 L299.61 366.84 L300.03 366.80 L300.45 366.72 L300.87 366.59 L301.30 366.43 L301.72 366.22 L302.14 365.96 L302.56 365.68 L302.98 365.35 L303.41 364.98 L303.83 364.59 L304.25 364.15 L304.67 363.69 L305.09 363.19 L305.52 362.66 L305.94 362.10 L306.36 361.52 L306.78 360.91 L307.20 360.27 L307.63 359.61 L308.05 358.92 L308.47 358.21 L308.89 357.49 L309.31 356.74 L309.74 355.97 L310.16 355.19 L310.58 354.39 L311.00 353.58 L311.42 352.75 L311.85 351.91 L312.27 351.06 L312.69 350.21 L313.11 349.34 L313.53 348.46 L313.96 347.58 L314.38 346.68 L314.80 345.62 L315.22 344.40 L315.64 343.04 L316.07 341.57 L316.49 340.02 L316.91 338.42 L317.33 336.78 L317.75 335.15 L318.18 333.55 L318.60 331.98 L319.02 330.38 L319.44 328.73 L319.86 327.04 L320.29 325.32 L320.71 323.56 L321.13 321.79 L321.55 319.99 L321.97 318.18 L322.40 316.37 L322.82 314.56 L323.24 312.75 L323.66 310.96 L324.08 309.18 L324.51 307.43 L324.93 305.71 L325.35 304.03 L325.77 302.38 L326.19 300.79 L326.62 299.24 L327.04 297.76 L327.46 296.34 L327.88 294.98 L328.30 293.67 L328.73 292.41 L329.15 291.17 L329.57 289.96 L329.99 288.76 L330.41 287.56 L330.84 286.36 L331.26 285.14 L331.68 283.89 L332.10 282.61 L332.52 281.28 L332.95 279.90 L333.37 278.46 L333.79 276.97 L334.21 275.45 L334.63 273.90 L335.06 272.31 L335.48 270.69 L335.90 269.04 L336.32 267.37 L336.74 265.68 L337.17 263.96 L337.59 262.22 L338.01 260.46 L338.43 258.69 L338.85 256.90 L339.28 255.10 L339.70 253.30 L340.12 251.48 L340.54 249.67 L340.96 247.82 L341.39 245.99 L341.81 244.18 L342.23 242.41 L342.65 240.56 L343.07 238.70 L343.50 236.92 L343.92 235.17 L344.34 233.42 L344.76 231.56 L345.18 229.88 L345.61 228.12 L346.03 226.40 L346.45 224.62 L346.87 223.06 L347.29 221.36 L347.72 219.88 L348.14 217.89 L348.56 216.23 L348.77 215.49 L348.98 214.92 L349.19 213.88 L349.40 212.97 L349.61 211.88 L349.83 211.24 L350.04 210.39 L350.25 209.56 L350.46 208.67 L350.67 208.20 L350.88 207.35 L351.09 206.60 L351.30 205.66 L351.51 204.88 L351.72 204.02 L351.94 203.41 L352.15 202.45 L352.36 201.84 L352.57 200.57 L352.78 200.26 L352.99 198.97 L353.20 198.38 L353.41 198.14 L353.62 197.01 L353.83 196.34 L354.05 196.01 L354.26 194.88 L354.47 194.29 L354.68 193.48 L354.89 193.00 L355.10 192.13 L355.31 191.32 L355.52 190.73 L355.73 190.12 L355.94 189.32 L356.16 188.80 L356.37 187.82 L356.58 187.77 L356.79 186.16 L357.00 185.80 L357.21 185.02 L357.42 184.24 L357.63 184.06 L357.84 182.53 L358.06 182.68 L358.27 181.61 L358.48 180.97 L358.69 180.05 L358.90 179.71 L359.11 179.41 L359.32 178.29 L359.53 178.36 L359.74 177.10 L359.95 176.51 L360.16 175.30 L360.38 175.14 L360.59 174.54 L360.80 173.97 L361.01 173.35 L361.22 172.62 L361.43 171.64 L361.64 171.56 L361.85 170.60 L362.06 170.33 L362.27 169.31 L362.49 168.58 L362.70 168.38 L362.91 167.55 L363.12 166.71 L363.33 165.88 L363.54 165.20 L363.75 164.92 L363.96 164.59 L364.17 164.18 L364.38 162.78 L364.60 161.96 L364.81 161.69 L365.02 160.68 L365.23 160.76 L365.44 160.14 L365.65 158.86 L365.86 159.16 L366.07 158.00 L366.28 157.48 L366.50 156.97 L366.71 155.81 L366.92 156.17 L367.13 155.42 L367.34 155.45 L367.55 154.49 L367.76 153.71 L367.97 153.09 L368.18 152.45 L368.39 151.68 L368.60 151.49 L368.82 151.44 L369.03 150.04 L369.24 149.37 L369.45 149.44 L369.66 148.74 L369.87 147.16 L370.08 146.90 L370.29 146.33 L370.50 145.95 L370.71 145.63 L370.93 145.36 L371.14 144.37 L371.35 144.16 L371.56 143.74 L371.77 143.02 L371.98 142.53 L372.19 141.58 L372.40 141.88 L372.61 139.84 L372.82 140.88 L373.04 140.12 L373.25 139.00 L373.46 139.31 L373.67 138.66 L373.88 137.95 L374.09 138.85 L374.30 137.24 L374.51 136.99 L374.72 136.19 L374.94 135.38 L375.15 134.86 L375.36 134.00 L375.57 133.58 L375.78 133.34 L375.99 133.42 L376.20 132.46 L376.41 133.04 L376.62 132.18 L376.83 130.99 L377.04 130.90 L377.26 131.60 L377.47 130.79 L377.68 129.63 L377.89 129.38 L378.10 128.74 L378.31 129.83 L378.52 129.18 L378.73 128.27 L378.94 128.27 L379.15 127.39 L379.37 127.00 L379.58 126.45 L379.79 126.34 L380.00 125.60 L380.21 125.12 L380.42 125.10 L380.63 125.51 L380.84 123.77 L381.05 124.01 L381.26 123.55 L381.48 123.35 L381.69 124.03 L381.90 122.45 L382.11 122.82 L382.32 122.82 L382.53 121.05 L382.74 121.64 L382.95 120.97 L383.16 120.30 L383.38 119.55 L383.59 121.27 L383.80 120.32 L384.01 119.16 L384.22 119.66 L384.43 120.92 L384.64 118.56 L384.85 118.21 L385.06 117.56 L385.27 117.61 L385.48 117.72 L385.70 117.02 L385.91 116.88 L386.12 116.89 L386.33 116.12 L386.54 115.77 L386.75 116.35 L386.96 114.77 L387.17 114.61 L387.38 114.35 L387.59 116.36 L387.81 114.22 L388.02 114.11 L388.23 114.41 L388.44 113.09 L388.65 114.20 L388.86 112.11 L389.07 112.41 L389.28 112.74 L389.49 111.17 L389.70 111.55 L389.92 111.38 L390.13 112.23 L390.34 110.72 L390.55 109.86 L390.76 109.81 L390.97 111.21 L391.18 109.10 L391.39 108.69 L391.60 108.97 L391.81 109.59 L392.03 110.14 L392.24 109.49 L392.45 109.02 L392.66 108.17 L392.87 107.74 L393.08 108.44 L393.29 108.87 L393.50 107.76 L393.71 108.21 L393.92 106.04 L394.14 107.71 L394.35 106.24 L394.56 105.77 L394.77 106.91 L394.98 105.22 L395.19 105.88 L395.40 106.18 L395.61 106.11 L395.82 105.12 L396.03 104.20 L396.25 106.29 L396.46 104.18 L396.67 104.59 L396.88 104.89 L397.09 104.22 L397.30 103.98 L397.51 103.85 L397.72 103.01 L397.93 104.20 L398.14 101.77 L398.36 102.47 L398.57 103.51 L398.78 104.43 L398.99 102.76 L399.20 102.93 L399.41 101.86 L399.62 101.74 L399.83 100.64 L400.04 102.17 L400.25 101.29 L400.47 102.17 L400.68 102.00 L400.89 100.30 L401.10 101.57 L401.31 101.43 L401.52 101.53 L401.73 100.84 L401.94 100.51 L402.15 101.01 L402.36 101.77 L402.58 100.41 L402.79 101.30 L403.00 100.80 L403.21 100.21 L403.42 100.09 L403.63 102.22 L403.84 98.65 L404.05 99.34 L404.26 98.27 L404.47 97.68 L404.69 100.58 L404.90 100.18 L405.11 99.40 L405.32 98.72 L405.53 99.90 L405.74 99.65 L405.95 98.37 L406.16 100.00 L406.37 98.97 L406.58 98.15 L406.80 99.24 L407.01 98.27 L407.22 98.98 L407.43 100.19 L407.64 99.22 L407.85 98.86 L408.06 98.92 L408.27 98.55 L408.48 98.17 L408.69 98.20 L408.91 98.24 L409.12 98.71 L409.33 98.47 L409.54 98.55 L409.75 98.69 L409.96 96.94 L410.17 99.72 L410.38 97.83 L410.59 99.40 L410.80 98.46 L411.02 97.21 L411.23 98.10 L411.44 96.61 L411.65 98.59 L411.86 97.99 L412.07 98.24 L412.28 97.65 L412.49 97.90 L412.70 97.92 L412.91 97.49 L413.13 96.58 L413.34 97.37 L413.55 97.43 L413.76 97.70 L413.97 98.03 L414.18 98.65 L414.39 98.28 L414.60 97.32 L414.81 98.98 L415.02 96.75 L415.24 97.65 L415.45 98.08 L415.66 97.72 L415.87 96.66 L416.08 96.89 L416.29 96.96 L416.50 95.65 L416.71 95.12 L416.92 98.21 L417.13 96.32 L417.35 97.71 L417.56 98.22 L417.77 97.46 L417.98 96.11 L418.19 97.23 L418.40 97.35 L418.61 95.70 L418.82 96.46 L419.03 96.94 L419.25 95.29 L419.46 96.42 L419.67 97.45 L419.88 97.75 L420.09 97.16 L420.30 96.64 L420.51 95.97 L420.72 96.04 L420.93 96.67 L421.14 97.78 L421.35 95.96 L421.57 96.69 L421.78 97.71 L421.99 97.84 L422.20 96.59 L422.41 96.49 L422.62 96.10 L422.83 97.86 L423.04 95.16 L423.25 98.40 L423.46 96.87 L423.68 95.69 L423.89 95.96 L424.10 97.70 L424.31 96.37 L424.52 95.85 L424.73 96.29 L424.94 97.79 L425.15 95.52 L425.36 98.39 L425.57 96.97 L425.79 97.96 L426.00 97.43 L426.21 97.37 L426.42 96.68 L426.63 98.23 L426.84 96.97 L427.05 96.07 L427.26 97.15 L427.47 96.78 L427.69 96.90 L427.90 97.95 L428.11 97.66 L428.32 97.33 L428.53 96.99 L428.74 95.68 L428.95 96.05 L429.16 97.90 L429.37 97.91 L429.58 98.45 L429.79 99.61 L430.01 96.51 L430.22 97.22 L430.43 99.40 L430.64 97.74 L430.85 95.75 L431.06 97.41 L431.27 97.43 L431.48 97.73 L431.69 98.61 L431.90 99.00 L432.12 98.75 L432.33 97.94 L432.54 98.32 L432.75 97.55 L432.96 96.67 L433.17 97.72 L433.38 97.55 L433.59 98.63 L433.80 99.49 L434.01 96.54 L434.23 97.83 L434.44 97.48 L434.65 98.88 L434.86 100.08 L435.07 97.51 L435.28 100.58 L435.49 98.90 L435.70 99.27 L435.91 98.67 L436.12 98.21 L436.34 98.25 L436.55 100.85 L436.76 98.22 L436.97 100.79 L437.18 98.60 L437.39 99.63 L437.60 100.29 L437.81 99.82 L438.02 100.56 L438.23 99.48 L438.45 98.71 L438.66 98.89 L438.87 99.61 L439.08 98.75 L439.29 99.33 L439.50 97.95 L439.71 99.44 L439.92 100.47 L440.13 100.27 L440.34 100.74 L440.56 100.39 L440.77 100.33 L440.98 99.67 L441.19 99.65 L441.40 100.35 L441.61 100.09 L441.82 101.17 L442.03 101.07 L442.24 102.81 L442.45 101.41 L442.67 101.23 L442.88 98.63 L443.09 102.11 L443.30 100.94 L443.51 101.36 L443.72 102.51 L443.93 100.98 L444.14 101.26 L444.35 102.62 L444.56 103.45 L444.78 101.53 L444.99 102.80 L445.20 101.04 L445.41 101.93 L445.62 101.30 L445.83 102.10 L446.04 100.55 L446.25 101.36 L446.46 100.70 L446.67 102.00 L446.89 103.06 L447.10 103.48 L447.31 102.75 L447.52 102.13 L447.73 103.00 L447.94 100.38 L448.15 102.65 L448.36 102.26 L448.57 102.66 L448.78 103.90 L449.00 101.94 L449.21 102.37 L449.42 102.25 L449.63 103.89 L449.84 103.13 L450.05 103.25 L450.26 102.26 L450.47 104.56 L450.68 102.83 L450.89 102.38 L451.11 103.93 L451.32 104.34 L451.53 102.54 L451.74 103.55 L451.95 102.84 L452.16 103.24 L452.37 103.03 L452.58 104.20 L452.79 105.96 L453.00 103.65 L453.22 104.84 L453.43 103.77 L453.64 104.84 L453.85 103.01 L454.06 104.72 L454.27 103.85 L454.48 103.67 L454.69 104.78 L454.90 104.48 L455.11 104.85 L455.33 105.71 L455.54 103.67 L455.75 105.83 L455.96 106.47 L456.17 105.60 L456.38 105.11 L456.59 105.23 L456.80 105.65 L457.01 105.81 L457.22 107.35 L457.44 104.98 L457.65 104.07 L457.86 106.29 L458.07 107.30 L458.28 105.11 L458.49 105.98 L458.70 109.39 L458.91 106.61 L459.12 107.28 L459.33 107.09 L459.55 104.35 L459.76 105.29 L459.97 106.35 L460.18 106.25 L460.39 104.93 L460.60 107.34 L460.81 105.76 L461.02 107.03 L461.23 105.78 L461.44 106.37 L461.66 107.28 L461.87 105.73 L462.08 106.24 L462.29 105.15 L462.50 107.19 L462.71 106.76 L462.92 107.54 L463.13 105.91 L463.34 107.71 L463.55 107.11 L463.77 105.99 L463.98 106.73 L464.19 107.00 L464.40 107.07 L464.61 107.06 L464.82 106.85 L465.03 107.75 L465.24 109.29 L465.45 106.41 L465.66 108.59 L465.88 106.07 L466.09 107.51 L466.30 105.01 L466.51 106.84 L466.72 107.57 L466.93 107.19 L467.14 109.31 L467.35 107.98 L467.56 108.53 L467.77 108.25 L467.99 110.16 L468.20 110.36 L468.41 107.84 L468.62 108.51 L468.83 109.02 L469.04 108.78 L469.25 109.35 L469.46 109.27 L469.67 108.31 L469.88 109.21 L470.10 108.45 L470.31 109.78 L470.52 110.84 L470.73 109.90 L470.94 109.52 L471.15 110.47 L471.36 109.90 L471.57 110.09 L471.78 108.90 L471.99 109.06 L472.21 108.92 L472.42 110.66 L472.63 109.76 L472.84 109.00 L473.05 110.07 L473.26 110.38 L473.47 111.08 L473.68 109.74 L473.89 110.42 L474.10 109.77 L474.32 110.88 L474.53 109.00 L474.74 110.94 L474.95 112.10 L475.16 110.91 L475.37 110.74 L475.58 110.12 L475.79 111.77 L476.00 111.91 L476.21 111.76 L476.43 111.95 L476.64 113.57 L476.85 111.13 L477.06 110.74 L477.27 112.61 L477.48 112.89 L477.69 112.23 L477.90 112.91 L478.11 111.56 L478.32 112.90 L478.54 111.88 L478.75 113.61 L478.96 113.84 L479.17 114.04 L479.38 114.00 L479.59 112.44 L479.80 112.15 L480.01 112.85 L480.22 112.87 L480.44 115.10 L480.65 112.23 L480.86 114.40 L481.07 112.22 L481.28 111.32 L481.49 113.48 L481.70 113.07 L481.91 113.15 L482.12 114.95 L482.33 114.87 L482.54 114.56 L482.76 113.89 L482.97 113.37 L483.18 114.09 L483.39 113.31 L483.60 114.82 L483.81 115.70 L484.02 114.51 L484.23 114.68 L484.44 115.97 L484.65 113.90 L484.87 115.74 L485.08 115.63 L485.29 114.88 L485.50 116.13 L485.71 114.72 L485.92 115.02 L486.13 115.06 L486.34 115.56 L486.55 116.08 L486.76 116.43 L486.98 115.59 L487.19 114.75 L487.40 115.37 L487.61 115.84 L487.82 115.39 L488.03 115.20 L488.24 117.59 L488.45 116.63 L488.66 115.62 L488.88 117.39 L489.09 117.34 L489.30 116.50 L489.51 117.35 L489.72 116.20 L489.93 117.66 L490.14 116.98 L490.35 115.41 L490.56 116.73 L490.77 119.06 L490.98 118.91 L491.20 119.00 L491.41 118.28 L491.62 119.60 L491.83 118.00 L492.04 117.11 L492.25 117.38 L492.46 119.56 L492.67 119.27 L492.88 119.42 L493.09 120.01 L493.31 117.93 L493.52 120.16 L493.73 120.68 L493.94 119.51 L494.15 119.67 L494.36 118.76 L494.57 118.90 L494.78 120.55 L494.99 122.37 L495.20 120.08 L495.42 120.10 L495.63 119.38 L495.84 122.48 L496.05 122.27 L496.26 120.02 L496.47 120.11 L496.68 120.54 L496.89 121.85 L497.10 120.85 L497.31 122.62 L497.53 123.38 L497.74 122.49 L497.95 122.49 L498.16 122.03 L498.37 121.93 L498.58 124.59 L498.79 122.95 L499.00 122.92 L499.21 124.61 L499.42 123.89 L499.64 123.76 L499.85 123.58 L500.06 124.88 L500.27 124.81 L500.48 125.40 L500.69 124.29 L500.90 125.04 L501.11 125.42 L501.32 124.50 L501.53 125.37 L501.75 126.42 L501.96 124.53 L502.17 124.83 L502.38 125.44 L502.59 126.91 L502.80 125.19 L503.01 126.83 L503.22 128.11 L503.43 126.74 L503.64 125.21 L503.86 127.34 L504.07 126.59 L504.28 126.06 L504.49 127.25 L504.70 127.85 L504.91 127.72 L505.12 127.38 L505.33 128.49 L505.54 127.90 L505.75 127.88 L505.97 128.85 L506.18 128.05 L506.39 128.35 L506.60 129.28 L506.81 129.31 L507.02 129.21 L507.23 129.60 L507.44 129.81 L507.65 130.67 L507.86 129.85 L508.08 129.47 L508.29 129.71 L508.50 131.14 L508.71 130.10 L508.92 130.22 L509.13 131.71 L509.34 130.62 L509.55 131.39 L509.76 131.72 L509.97 131.36 L510.19 131.91 L510.40 133.82 L510.61 131.88 L510.82 133.19 L511.03 132.48 L511.24 131.98 L511.45 132.94 L511.66 133.29 L511.87 132.96 L512.09 132.83 L512.30 134.15 L512.51 134.15 L512.72 133.35 L512.93 132.58 L513.14 134.13 L513.35 133.56 L513.56 135.12 L513.77 134.66 L513.98 134.79 L514.20 136.14 L514.41 135.23 L514.62 135.56 L514.83 137.77 L515.04 135.85 L515.25 135.71 L515.46 135.95 L515.67 136.07 L515.88 137.49 L516.09 137.36 L516.30 137.08 L516.52 137.85 L516.73 137.70 L516.94 136.45 L517.15 138.44 L517.36 138.17 L517.57 136.51 L517.78 138.38 L517.99 139.31 L518.20 138.43 L518.41 138.68 L518.63 138.91 L518.84 140.63 L519.05 139.16 L519.26 139.27 L519.47 138.03 L519.68 139.39 L519.89 140.52 L520.10 140.06 L520.31 139.95 L520.52 140.82 L520.74 140.91 L520.95 139.90 L521.16 140.82 L521.37 140.97 L521.58 142.40 L521.79 141.39 L522.00 143.53 L522.21 141.04 L522.42 142.64 L522.63 141.87 L522.85 141.37 L523.06 143.63 L523.27 141.88 L523.48 142.81 L523.69 142.17 L523.90 143.59 L524.11 144.01 L524.32 142.45 L524.53 143.32 L524.75 143.75 L524.96 144.88 L525.17 142.90 L525.38 144.41 L525.59 144.42 L525.80 144.92" stroke="#0000ff" stroke-width="3.3" stroke-dasharray="10 8.7 0.4 8.6" stroke-linecap="round"/>
</g>
<path d="M82.70 379.20 V372.40 M82.70 22.00 V28.80 M146.00 379.20 V372.40 M146.00 22.00 V28.80 M209.30 379.20 V372.40 M209.30 22.00 V28.80 M272.60 379.20 V372.40 M272.60 22.00 V28.80 M335.90 379.20 V372.40 M335.90 22.00 V28.80 M399.20 379.20 V372.40 M399.20 22.00 V28.80 M462.50 379.20 V372.40 M462.50 22.00 V28.80 M525.80 379.20 V372.40 M525.80 22.00 V28.80 M82.70 379.20 H89.50 M525.80 379.20 H519.00 M82.70 343.48 H89.50 M525.80 343.48 H519.00 M82.70 307.76 H89.50 M525.80 307.76 H519.00 M82.70 272.04 H89.50 M525.80 272.04 H519.00 M82.70 236.32 H89.50 M525.80 236.32 H519.00 M82.70 200.60 H89.50 M525.80 200.60 H519.00 M82.70 164.88 H89.50 M525.80 164.88 H519.00 M82.70 129.16 H89.50 M525.80 129.16 H519.00 M82.70 93.44 H89.50 M525.80 93.44 H519.00 M82.70 57.72 H89.50 M525.80 57.72 H519.00 M82.70 22.00 H89.50 M525.80 22.00 H519.00 M114.35 379.20 V375.90 M114.35 22.00 V25.30 M177.65 379.20 V375.90 M177.65 22.00 V25.30 M240.95 379.20 V375.90 M240.95 22.00 V25.30 M304.25 379.20 V375.90 M304.25 22.00 V25.30 M367.55 379.20 V375.90 M367.55 22.00 V25.30 M430.85 379.20 V375.90 M430.85 22.00 V25.30 M494.15 379.20 V375.90 M494.15 22.00 V25.30 M82.70 361.34 H86.00 M525.80 361.34 H522.50 M82.70 325.62 H86.00 M525.80 325.62 H522.50 M82.70 289.90 H86.00 M525.80 289.90 H522.50 M82.70 254.18 H86.00 M525.80 254.18 H522.50 M82.70 218.46 H86.00 M525.80 218.46 H522.50 M82.70 182.74 H86.00 M525.80 182.74 H522.50 M82.70 147.02 H86.00 M525.80 147.02 H522.50 M82.70 111.30 H86.00 M525.80 111.30 H522.50 M82.70 75.58 H86.00 M525.80 75.58 H522.50 M82.70 39.86 H86.00 M525.80 39.86 H522.50" stroke="#000" stroke-width="1.5" fill="none"/>
<rect x="82.7" y="22.0" width="443.09999999999997" height="357.2" fill="none" stroke="#000" stroke-width="1.6"/>
<g font-size="18"><text transform="translate(82.70,401.5) scale(1,1.04)" text-anchor="middle">150</text><text transform="translate(146.00,401.5) scale(1,1.04)" text-anchor="middle">300</text><text transform="translate(209.30,401.5) scale(1,1.04)" text-anchor="middle">450</text><text transform="translate(272.60,401.5) scale(1,1.04)" text-anchor="middle">600</text><text transform="translate(335.90,401.5) scale(1,1.04)" text-anchor="middle">750</text><text transform="translate(399.20,401.5) scale(1,1.04)" text-anchor="middle">900</text><text transform="translate(462.50,401.5) scale(1,1.04)" text-anchor="middle">1050</text><text transform="translate(525.80,401.5) scale(1,1.04)" text-anchor="middle">1200</text><text transform="translate(74.6,384.40) scale(1,1.04)" text-anchor="end">0</text><text transform="translate(74.6,348.68) scale(1,1.04)" text-anchor="end">5</text><text transform="translate(74.6,312.96) scale(1,1.04)" text-anchor="end">10</text><text transform="translate(74.6,277.24) scale(1,1.04)" text-anchor="end">15</text><text transform="translate(74.6,241.52) scale(1,1.04)" text-anchor="end">20</text><text transform="translate(74.6,205.80) scale(1,1.04)" text-anchor="end">25</text><text transform="translate(74.6,170.08) scale(1,1.04)" text-anchor="end">30</text><text transform="translate(74.6,134.36) scale(1,1.04)" text-anchor="end">35</text><text transform="translate(74.6,98.64) scale(1,1.04)" text-anchor="end">40</text><text transform="translate(74.6,62.92) scale(1,1.04)" text-anchor="end">45</text><text transform="translate(74.6,27.20) scale(1,1.04)" text-anchor="end">50</text></g>
<text transform="translate(314.6,443.5) scale(1,1.04)" font-size="33.8" text-anchor="middle">Wavelength (nm)</text>
<text transform="translate(32.2,193.8) rotate(-90) scale(1,1.04)" font-size="34.2" text-anchor="middle">Specular <tspan font-style="italic">R</tspan> (%)</text>
<!-- legend -->
<rect x="96" y="26.6" width="243.3" height="109.8" fill="#fff" stroke="#6a6a6a" stroke-width="1"/>
<g font-size="23">
<path d="M142.2 39.5 H192.5" stroke="#000" stroke-width="3" stroke-linecap="round"/>
<text transform="translate(198.4,47.3) scale(1,1.04)">as-grown</text>
<path d="M102.5 67.6 H148" stroke="#ff0000" stroke-width="3.8" stroke-dasharray="0 7.48" stroke-linecap="round"/>
<text transform="translate(159,75.4) scale(1,1.04)">20 min H-etching</text>
<path d="M102.65 95.8 H149" stroke="#00ff00" stroke-width="3.5" stroke-dasharray="4.8 8.8" stroke-linecap="round"/>
<text transform="translate(159,103.7) scale(1,1.04)">60 min H-etching</text>
<path d="M96.95 123.8 H146" stroke="#0000ff" stroke-width="3.3" stroke-dasharray="10.2 8.8 0.4 8.3" stroke-linecap="round"/>
<text transform="translate(153.8,132) scale(1,1.04)">120 min H-etching</text>
</g>
<rect x="372.6" y="310.3" width="138.3" height="59.3" fill="#fff" stroke="#6a6a6a" stroke-width="1"/>
<g font-size="25" text-anchor="middle">
<text transform="translate(441.6,333.2) scale(1,1.04)">(N)UNCD/Si</text>
<text transform="translate(441.2,364.3) scale(1,1.04)">coupon #1</text>
</g>
</svg>
</body></html>
